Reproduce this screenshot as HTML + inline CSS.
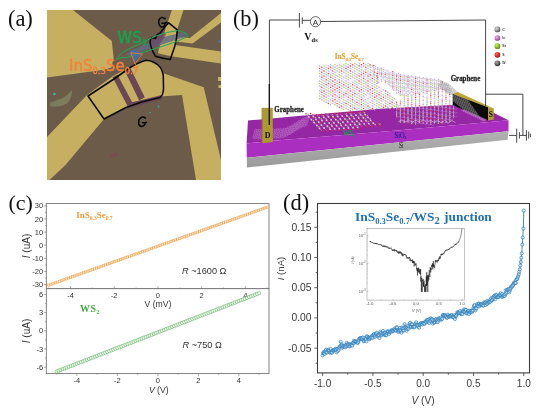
<!DOCTYPE html>
<html><head><meta charset="utf-8"><title>figure</title>
<style>html,body{margin:0;padding:0;background:#fff;overflow:hidden}svg{display:block;filter:blur(0.4px)}</style>
</head><body>
<svg width="550" height="418" viewBox="0 0 550 418">
<rect width="550" height="418" fill="#fff"/>
<g id="pa">
<clipPath id="clipA"><rect x="47" y="10" width="174" height="170"/></clipPath>
<g clip-path="url(#clipA)">
<rect x="47" y="10" width="174" height="170" fill="#6c5b48"/>
<polygon fill="#c6af61" points="47,10 73,10 111.8,41 113.6,57.5 111.5,67.5 104.4,69.8 47,77.5"/>
<polygon fill="#c6af61" points="47,137 87,95 113,76 131,66.5 143,60.5 152,61 160,67 163.3,73.3 203.7,87.3 221,160 221,180 196,180 182,95 160,96.5 143,101.5 126,107.5 104,119 65.5,165 49.5,180 47,180"/>
<polygon fill="#c6af61" points="171.9,10 183.5,10 176.5,31.4 175,45 220.8,51.6 220.8,63.5 171,56.3 157.9,53.2 158.6,50"/>
<polygon fill="#c6af61" points="221,13 221,22.5 192.5,43.5 163,40 164,35.5 190,38"/>
<polygon fill="#6b4657" points="112.6,77.3 117.4,74.8 132.6,103 127.4,105.8"/>
<polygon fill="#6b4657" points="125,71.2 130.4,68.3 144.8,97.3 139.2,100.4"/>
<polygon fill="#6b4657" points="127,103.5 161,95.3 162,99.3 128,108.6"/>
<path d="M126,54.5 C135,48 160,36 186,32.3 C188.5,34 186,36.5 182,38 C165,43 145,50.5 130,56 Z" fill="#5e6a86" opacity="0.8"/>
<path d="M150,40 C152,36 158,34 162,30 L166,34 C164,40 158,46 153,47 Z" fill="#6b4a66" opacity="0.8"/>
<path d="M50,103 C55,100 63,100 69,93 L72,90 C72,96 70,102 66,104 C60,107 53,107 50,106 Z" fill="#7b7e5c"/>
<circle cx="54.5" cy="94" r="1.3" fill="#3fb0a8"/>
<circle cx="158.5" cy="106.5" r="0.9" fill="#3fa0a8"/>
<circle cx="150" cy="112.5" r="0.8" fill="#3fa0a8"/>
<circle cx="219.5" cy="41.5" r="1.3" fill="#4a78b0"/>
<circle cx="205.3" cy="28" r="0.6" fill="#4a78b0"/>
<rect x="110" y="154" width="8.5" height="2.2" fill="#7c4a55" transform="rotate(-20 114 155)"/>
<rect x="218" y="77" width="3" height="4" fill="#c9b363"/>
<rect x="218.5" y="85" width="2.5" height="3" fill="#c9b363"/>
</g>
<g fill="none" stroke="#0a0a0a" stroke-width="1.55" stroke-linejoin="round" stroke-linecap="round">
<path d="M88,96 L104,119 L126,107.5 L142.5,101.7 L160,97.5 Q163.5,95 163.5,88 L163.3,76 Q162.5,69 158,65 Q152,60.5 146,60.3 Q140,62 131,67 L114,79 Z"/>
<path d="M168.7,22.9 L177.3,29.9 Q177,38 175,45.4 L170.3,59.4 Q162,58.5 155.5,56.3 Q151,49 150.1,42.3 Q150,39 151.7,37.6 L155.5,38.4 L157,35 L160.2,33 L164.9,26.8 Z"/>
<path d="M165.2,18.8 Q161.5,15.8 159.2,19.5 Q157.6,24.5 161.2,27 Q164.6,27.5 165.2,23 L162,23.2 M165.2,23 L167,22.3"/>
<path d="M145.5,118 Q141.5,115.5 139,120 Q137.5,125.5 141.5,126.5 Q145,126 145.5,122.5 L142.5,122.7 M145.5,122.5 L146.5,122.2"/>
</g>
<g fill="none" stroke="#1faa55" stroke-width="1" stroke-linecap="round" stroke-linejoin="round">
<path d="M116.5,59 Q119,55 123,52 Q128,49 134,46.5 L140,43.8 Q147,40 155.5,36.1 Q166,32 177.3,30.6 Q182,30.8 185,33 Q187.5,34 187.4,35.6 Q187,37 185,37.6 Q180,40.5 174.2,42.3 Q165,45.5 155.5,48.5 Q147,51.5 140,53.2 Q135,54.5 132,55.7 L129.5,57 Q126,57.8 123,57.5 Q119,58 116.5,59 Z"/>
</g>
<path d="M130.5,50.5 L141.5,53.5 L134.2,62 Z" fill="#3f74c4" fill-opacity="0.55" stroke="#3a6fc0" stroke-width="0.8" stroke-linejoin="round"/>
<g fill="none" stroke="#f08030" stroke-width="0.8" stroke-linecap="round" stroke-linejoin="round">
<path d="M131.2,52.8 L142.3,54 L135.2,63.5 Z M135.2,63.5 Q137.5,66 136,68.5 L138,70 M136,68.5 L137.5,66.5"/>
</g>
<text y="43.2" font-family="'DejaVu Sans','Liberation Sans',sans-serif" font-size="15" fill="#16a34f" stroke="#16a34f" stroke-width="0.5"><tspan x="117.3">W</tspan><tspan x="132.3">S</tspan><tspan x="142.4" font-size="7.5" dy="2">2</tspan></text>
<text x="69" y="71.3" font-family="'DejaVu Sans','Liberation Sans',sans-serif" font-size="15" fill="#f5813a" stroke="#f5813a" stroke-width="0.4">InS<tspan font-size="8.5" dy="2.5">0.3</tspan><tspan dy="-2.5">Se</tspan><tspan font-size="8.5" dy="2.5">0.7</tspan></text>
</g>
<text x="7.9" y="25.9" font-family="'Liberation Serif',serif" font-size="22.5" fill="#111">(a)</text>
<g id="pb">
<linearGradient id="siG" x1="0" y1="0" x2="0.1" y2="1"><stop offset="0" stop-color="#b4b4b4"/><stop offset="1" stop-color="#9a9a9a"/></linearGradient>
<polygon fill="#9526a4" points="248,120.5 304,115.4 380,108.7 445,105.3 470,104.8 494,113 508.5,120.3 400,130.3 325,136.6 270,140.9 246.6,143.6"/>
<polygon fill="#aa2fc1" points="246.6,143.6 270,140.9 325,136.6 400,130.3 508.5,120.3 508.5,131.2 246.8,157.8"/>
<polygon fill="url(#siG)" points="246.8,157.8 508.5,131.2 507.6,139.8 247,167.5"/>
<path d="M252.8,138.4L255.2,129.2M254.6,138.58L257,129.38M256.4,138.74L258.8,129.54M258.2,138.87L260.6,129.67M260,138.96L262.4,129.76M261.8,139L264.2,129.8M263.6,138.98L266,129.78M265.4,138.92L267.8,129.72M267.2,138.81L269.6,129.61M269,138.66L271.4,129.46M270.8,138.48L273.2,129.28M272.6,138.31L275,129.11M274.4,138.13L276.8,128.93M276.2,137.99L278.6,128.79M278,137.88L280.4,128.68M279.8,137.81L282.2,128.61M281.6,137.64L284,128.44M283.4,137.21L285.8,128.01M285.2,136.58L287.6,127.38M287,135.79L289.4,126.59M288.8,134.86L291.2,125.66M290.6,133.83L293,124.63M292.4,132.74L294.8,123.54M294.2,131.6L296.6,122.4M296,130.45L298.4,121.25M297.8,129.33L300.2,120.13M299.6,128.28L302,119.08M301.4,127.33L303.8,118.13M303.2,126.54L305.6,117.34M305,125.96L307.4,116.76M306.8,125.65L309.2,116.45M255.2,128.65L257,129.93L258.8,128.99L260.6,130.22L262.4,129.21L264.2,130.35L266,129.23L267.8,130.27L269.6,129.06L271.4,130.01L273.2,128.73L275,129.66L276.8,128.38L278.6,129.34L280.4,128.13L282.2,129.16L284,127.89L285.8,128.56L287.6,126.83L289.4,127.14L291.2,125.11L293,125.18L294.8,122.99L296.6,122.95L298.4,120.7L300.2,120.68L302,118.53L303.8,118.68L305.6,116.79L307.4,117.31L309.2,115.9M254.73,130.45L256.53,131.73L258.33,130.79L260.13,132.02L261.93,131.01L263.73,132.15L265.53,131.03L267.33,132.07L269.13,130.86L270.93,131.81L272.73,130.53L274.53,131.46L276.33,130.18L278.13,131.14L279.93,129.93L281.73,130.96L283.53,129.69L285.33,130.36L287.13,128.63L288.93,128.94L290.73,126.91L292.53,126.98L294.33,124.79L296.13,124.75L297.93,122.5L299.73,122.48L301.53,120.33L303.33,120.48L305.13,118.59L306.93,119.11L308.73,117.7M254.23,132.35L256.03,133.63L257.83,132.69L259.63,133.92L261.43,132.91L263.23,134.05L265.03,132.93L266.83,133.97L268.63,132.76L270.43,133.71L272.23,132.43L274.03,133.36L275.83,132.08L277.63,133.04L279.43,131.83L281.23,132.86L283.03,131.59L284.83,132.26L286.63,130.53L288.43,130.84L290.23,128.81L292.03,128.88L293.83,126.69L295.63,126.65L297.43,124.4L299.23,124.38L301.03,122.23L302.83,122.38L304.63,120.49L306.43,121.01L308.23,119.6M253.77,134.15L255.57,135.43L257.37,134.49L259.17,135.72L260.97,134.71L262.77,135.85L264.57,134.73L266.37,135.77L268.17,134.56L269.97,135.51L271.77,134.23L273.57,135.16L275.37,133.88L277.17,134.84L278.97,133.63L280.77,134.66L282.57,133.39L284.37,134.06L286.17,132.33L287.97,132.64L289.77,130.61L291.57,130.68L293.37,128.49L295.17,128.45L296.97,126.2L298.77,126.18L300.57,124.03L302.37,124.18L304.17,122.29L305.97,122.81L307.77,121.4M253.27,136.05L255.07,137.33L256.87,136.39L258.67,137.62L260.47,136.61L262.27,137.75L264.07,136.63L265.87,137.67L267.67,136.46L269.47,137.41L271.27,136.13L273.07,137.06L274.87,135.78L276.67,136.74L278.47,135.53L280.27,136.56L282.07,135.29L283.87,135.96L285.67,134.23L287.47,134.54L289.27,132.51L291.07,132.58L292.87,130.39L294.67,130.35L296.47,128.1L298.27,128.08L300.07,125.93L301.87,126.08L303.67,124.19L305.47,124.71L307.27,123.3M252.8,137.85L254.6,139.13L256.4,138.19L258.2,139.42L260,138.41L261.8,139.55L263.6,138.43L265.4,139.47L267.2,138.26L269,139.21L270.8,137.93L272.6,138.86L274.4,137.58L276.2,138.54L278,137.33L279.8,138.36L281.6,137.09L283.4,137.76L285.2,136.03L287,136.34L288.8,134.31L290.6,134.38L292.4,132.19L294.2,132.15L296,129.9L297.8,129.88L299.6,127.73L301.4,127.88L303.2,125.99L305,126.51L306.8,125.1" fill="none" stroke="#e2cdea" stroke-width="0.38" opacity="0.6"/>
<path d="M306,113.8L322.2,131.2M310.6,113.5L326.8,130.9M316.55,114.65L331.4,130.6M321.15,114.35L336,130.3M325.75,114.05L340.6,130M330.35,113.75L345.2,129.7M334.95,113.45L349.8,129.4M339.55,113.15L354.4,129.1M344.15,112.85L359,128.8M348.75,112.55L362.25,127.05M353.35,112.25L366.85,126.75M357.95,111.95L371.45,126.45M362.55,111.65L376.05,126.15M377.95,122.95L380.65,125.85" stroke="#e4d2ea" stroke-width="0.8" fill="none" opacity="0.45"/>
<g fill="#e2e2e2" stroke="#858585" stroke-width="0.22"><circle cx="308.7" cy="116.7" r="0.88"/><circle cx="311.4" cy="119.6" r="0.88"/><circle cx="314.1" cy="122.5" r="0.88"/><circle cx="316.8" cy="125.4" r="0.88"/><circle cx="319.5" cy="128.3" r="0.88"/><circle cx="313.3" cy="116.4" r="0.88"/><circle cx="316" cy="119.3" r="0.88"/><circle cx="318.7" cy="122.2" r="0.88"/><circle cx="321.4" cy="125.1" r="0.88"/><circle cx="324.1" cy="128" r="0.88"/><circle cx="319.25" cy="117.55" r="0.88"/><circle cx="321.95" cy="120.45" r="0.88"/><circle cx="324.65" cy="123.35" r="0.88"/><circle cx="327.35" cy="126.25" r="0.88"/><circle cx="330.05" cy="129.15" r="0.88"/><circle cx="323.85" cy="117.25" r="0.88"/><circle cx="326.55" cy="120.15" r="0.88"/><circle cx="329.25" cy="123.05" r="0.88"/><circle cx="331.95" cy="125.95" r="0.88"/><circle cx="334.65" cy="128.85" r="0.88"/><circle cx="328.45" cy="116.95" r="0.88"/><circle cx="331.15" cy="119.85" r="0.88"/><circle cx="333.85" cy="122.75" r="0.88"/><circle cx="336.55" cy="125.65" r="0.88"/><circle cx="339.25" cy="128.55" r="0.88"/><circle cx="333.05" cy="116.65" r="0.88"/><circle cx="335.75" cy="119.55" r="0.88"/><circle cx="338.45" cy="122.45" r="0.88"/><circle cx="341.15" cy="125.35" r="0.88"/><circle cx="343.85" cy="128.25" r="0.88"/><circle cx="337.65" cy="116.35" r="0.88"/><circle cx="340.35" cy="119.25" r="0.88"/><circle cx="343.05" cy="122.15" r="0.88"/><circle cx="345.75" cy="125.05" r="0.88"/><circle cx="348.45" cy="127.95" r="0.88"/><circle cx="342.25" cy="116.05" r="0.88"/><circle cx="344.95" cy="118.95" r="0.88"/><circle cx="347.65" cy="121.85" r="0.88"/><circle cx="350.35" cy="124.75" r="0.88"/><circle cx="353.05" cy="127.65" r="0.88"/><circle cx="346.85" cy="115.75" r="0.88"/><circle cx="349.55" cy="118.65" r="0.88"/><circle cx="352.25" cy="121.55" r="0.88"/><circle cx="354.95" cy="124.45" r="0.88"/><circle cx="357.65" cy="127.35" r="0.88"/><circle cx="351.45" cy="115.45" r="0.88"/><circle cx="354.15" cy="118.35" r="0.88"/><circle cx="356.85" cy="121.25" r="0.88"/><circle cx="359.55" cy="124.15" r="0.88"/><circle cx="356.05" cy="115.15" r="0.88"/><circle cx="358.75" cy="118.05" r="0.88"/><circle cx="361.45" cy="120.95" r="0.88"/><circle cx="364.15" cy="123.85" r="0.88"/><circle cx="360.65" cy="114.85" r="0.88"/><circle cx="363.35" cy="117.75" r="0.88"/><circle cx="366.05" cy="120.65" r="0.88"/><circle cx="368.75" cy="123.55" r="0.88"/><circle cx="365.25" cy="114.55" r="0.88"/><circle cx="367.95" cy="117.45" r="0.88"/><circle cx="370.65" cy="120.35" r="0.88"/><circle cx="373.35" cy="123.25" r="0.88"/></g>
<g fill="#e8242a"><circle cx="306" cy="113.8" r="0.75"/><circle cx="308.15" cy="114.75" r="0.55"/><circle cx="310.85" cy="117.65" r="0.55"/><circle cx="316.25" cy="123.45" r="0.55"/><circle cx="321.65" cy="129.25" r="0.55"/><circle cx="322.2" cy="131.2" r="0.75"/><circle cx="310.6" cy="113.5" r="0.75"/><circle cx="312.75" cy="114.45" r="0.55"/><circle cx="318.15" cy="120.25" r="0.55"/><circle cx="320.85" cy="123.15" r="0.55"/><circle cx="323.55" cy="126.05" r="0.55"/><circle cx="326.25" cy="128.95" r="0.55"/><circle cx="326.8" cy="130.9" r="0.75"/><circle cx="316.55" cy="114.65" r="0.75"/><circle cx="318.7" cy="115.6" r="0.55"/><circle cx="324.1" cy="121.4" r="0.55"/><circle cx="326.8" cy="124.3" r="0.55"/><circle cx="331.4" cy="130.6" r="0.75"/><circle cx="321.15" cy="114.35" r="0.75"/><circle cx="328.7" cy="121.1" r="0.55"/><circle cx="334.1" cy="126.9" r="0.55"/><circle cx="336" cy="130.3" r="0.75"/><circle cx="325.75" cy="114.05" r="0.75"/><circle cx="330.6" cy="117.9" r="0.55"/><circle cx="333.3" cy="120.8" r="0.55"/><circle cx="336" cy="123.7" r="0.55"/><circle cx="338.7" cy="126.6" r="0.55"/><circle cx="340.6" cy="130" r="0.75"/><circle cx="330.35" cy="113.75" r="0.75"/><circle cx="335.2" cy="117.6" r="0.55"/><circle cx="343.3" cy="126.3" r="0.55"/><circle cx="345.2" cy="129.7" r="0.75"/><circle cx="334.95" cy="113.45" r="0.75"/><circle cx="339.8" cy="117.3" r="0.55"/><circle cx="342.5" cy="120.2" r="0.55"/><circle cx="345.2" cy="123.1" r="0.55"/><circle cx="349.8" cy="129.4" r="0.75"/><circle cx="339.55" cy="113.15" r="0.75"/><circle cx="341.7" cy="114.1" r="0.55"/><circle cx="344.4" cy="117" r="0.55"/><circle cx="349.8" cy="122.8" r="0.55"/><circle cx="352.5" cy="125.7" r="0.55"/><circle cx="354.4" cy="129.1" r="0.75"/><circle cx="344.15" cy="112.85" r="0.75"/><circle cx="351.7" cy="119.6" r="0.55"/><circle cx="359" cy="128.8" r="0.75"/><circle cx="348.75" cy="112.55" r="0.75"/><circle cx="356.3" cy="119.3" r="0.55"/><circle cx="361.7" cy="125.1" r="0.55"/><circle cx="362.25" cy="127.05" r="0.75"/><circle cx="353.35" cy="112.25" r="0.75"/><circle cx="355.5" cy="113.2" r="0.55"/><circle cx="360.9" cy="119" r="0.55"/><circle cx="363.6" cy="121.9" r="0.55"/><circle cx="366.3" cy="124.8" r="0.55"/><circle cx="366.85" cy="126.75" r="0.75"/><circle cx="357.95" cy="111.95" r="0.75"/><circle cx="370.9" cy="124.5" r="0.55"/><circle cx="371.45" cy="126.45" r="0.75"/><circle cx="362.55" cy="111.65" r="0.75"/><circle cx="372.8" cy="121.3" r="0.55"/><circle cx="376.05" cy="126.15" r="0.75"/><circle cx="377.95" cy="122.95" r="0.75"/><circle cx="380.65" cy="125.85" r="0.75"/></g>
<g fill="#d8d24a"><circle cx="313.55" cy="120.55" r="0.55"/><circle cx="318.95" cy="126.35" r="0.55"/><circle cx="315.45" cy="117.35" r="0.55"/><circle cx="321.4" cy="118.5" r="0.55"/><circle cx="329.5" cy="127.2" r="0.55"/><circle cx="323.3" cy="115.3" r="0.55"/><circle cx="326" cy="118.2" r="0.55"/><circle cx="331.4" cy="124" r="0.55"/><circle cx="327.9" cy="115" r="0.55"/><circle cx="332.5" cy="114.7" r="0.55"/><circle cx="337.9" cy="120.5" r="0.55"/><circle cx="340.6" cy="123.4" r="0.55"/><circle cx="337.1" cy="114.4" r="0.55"/><circle cx="347.9" cy="126" r="0.55"/><circle cx="347.1" cy="119.9" r="0.55"/><circle cx="346.3" cy="113.8" r="0.55"/><circle cx="349" cy="116.7" r="0.55"/><circle cx="354.4" cy="122.5" r="0.55"/><circle cx="357.1" cy="125.4" r="0.55"/><circle cx="350.9" cy="113.5" r="0.55"/><circle cx="353.6" cy="116.4" r="0.55"/><circle cx="359" cy="122.2" r="0.55"/><circle cx="358.2" cy="116.1" r="0.55"/><circle cx="360.1" cy="112.9" r="0.55"/><circle cx="362.8" cy="115.8" r="0.55"/><circle cx="365.5" cy="118.7" r="0.55"/><circle cx="368.2" cy="121.6" r="0.55"/><circle cx="364.7" cy="112.6" r="0.55"/><circle cx="367.4" cy="115.5" r="0.55"/><circle cx="370.1" cy="118.4" r="0.55"/><circle cx="375.5" cy="124.2" r="0.55"/><circle cx="380.1" cy="123.9" r="0.55"/></g>
<g>
<path d="M319.6,98.5L330.6,104.75M319.6,96L343.8,109.75M319.6,93.5L350.4,111M319.6,91L352.6,109.75M319.6,88.5L357,109.75M319.6,86L361.4,109.75M319.6,83.5L365.8,109.75M319.6,81L370.2,109.75M319.6,78.5L374.6,109.75M319.6,76L376.8,108.5M319.6,73.5L381.2,108.5M319.6,71L385.6,108.5M319.6,68.5L390,108.5M319.6,66L394.4,108.5M324,66L398.8,108.5M326.2,64.75L398.8,106M330.6,64.75L396.6,102.25M335,64.75L396.6,99.75M339.4,64.75L390,93.5M343.8,64.75L381.2,86M346,63.5L379,82.25M350.4,63.5L376.8,78.5M354.8,63.5L376.8,76M359.2,63.5L376.8,73.5M363.6,63.5L374.6,69.75M368,63.5L372.4,66" stroke="#d6ccdf" stroke-width="1.0" fill="none" opacity="0.62" stroke-linecap="round"/>
<g fill="#b796c6" opacity="0.75"><circle cx="321.8" cy="99.75" r="0.72"/><circle cx="326.2" cy="102.25" r="0.72"/><circle cx="330.6" cy="104.75" r="0.72"/><circle cx="319.6" cy="96" r="0.72"/><circle cx="324" cy="98.5" r="0.72"/><circle cx="328.4" cy="101" r="0.72"/><circle cx="332.8" cy="103.5" r="0.72"/><circle cx="337.2" cy="106" r="0.72"/><circle cx="341.6" cy="108.5" r="0.72"/><circle cx="321.8" cy="94.75" r="0.72"/><circle cx="326.2" cy="97.25" r="0.72"/><circle cx="330.6" cy="99.75" r="0.72"/><circle cx="335" cy="102.25" r="0.72"/><circle cx="339.4" cy="104.75" r="0.72"/><circle cx="343.8" cy="107.25" r="0.72"/><circle cx="348.2" cy="109.75" r="0.72"/><circle cx="319.6" cy="91" r="0.72"/><circle cx="324" cy="93.5" r="0.72"/><circle cx="328.4" cy="96" r="0.72"/><circle cx="332.8" cy="98.5" r="0.72"/><circle cx="337.2" cy="101" r="0.72"/><circle cx="341.6" cy="103.5" r="0.72"/><circle cx="346" cy="106" r="0.72"/><circle cx="350.4" cy="108.5" r="0.72"/><circle cx="321.8" cy="89.75" r="0.72"/><circle cx="326.2" cy="92.25" r="0.72"/><circle cx="330.6" cy="94.75" r="0.72"/><circle cx="335" cy="97.25" r="0.72"/><circle cx="339.4" cy="99.75" r="0.72"/><circle cx="343.8" cy="102.25" r="0.72"/><circle cx="348.2" cy="104.75" r="0.72"/><circle cx="352.6" cy="107.25" r="0.72"/><circle cx="357" cy="109.75" r="0.72"/><circle cx="319.6" cy="86" r="0.72"/><circle cx="324" cy="88.5" r="0.72"/><circle cx="328.4" cy="91" r="0.72"/><circle cx="332.8" cy="93.5" r="0.72"/><circle cx="337.2" cy="96" r="0.72"/><circle cx="341.6" cy="98.5" r="0.72"/><circle cx="346" cy="101" r="0.72"/><circle cx="350.4" cy="103.5" r="0.72"/><circle cx="354.8" cy="106" r="0.72"/><circle cx="359.2" cy="108.5" r="0.72"/><circle cx="321.8" cy="84.75" r="0.72"/><circle cx="326.2" cy="87.25" r="0.72"/><circle cx="330.6" cy="89.75" r="0.72"/><circle cx="335" cy="92.25" r="0.72"/><circle cx="339.4" cy="94.75" r="0.72"/><circle cx="343.8" cy="97.25" r="0.72"/><circle cx="348.2" cy="99.75" r="0.72"/><circle cx="352.6" cy="102.25" r="0.72"/><circle cx="357" cy="104.75" r="0.72"/><circle cx="361.4" cy="107.25" r="0.72"/><circle cx="365.8" cy="109.75" r="0.72"/><circle cx="319.6" cy="81" r="0.72"/><circle cx="324" cy="83.5" r="0.72"/><circle cx="328.4" cy="86" r="0.72"/><circle cx="332.8" cy="88.5" r="0.72"/><circle cx="337.2" cy="91" r="0.72"/><circle cx="341.6" cy="93.5" r="0.72"/><circle cx="346" cy="96" r="0.72"/><circle cx="350.4" cy="98.5" r="0.72"/><circle cx="354.8" cy="101" r="0.72"/><circle cx="359.2" cy="103.5" r="0.72"/><circle cx="363.6" cy="106" r="0.72"/><circle cx="368" cy="108.5" r="0.72"/><circle cx="321.8" cy="79.75" r="0.72"/><circle cx="326.2" cy="82.25" r="0.72"/><circle cx="330.6" cy="84.75" r="0.72"/><circle cx="335" cy="87.25" r="0.72"/><circle cx="339.4" cy="89.75" r="0.72"/><circle cx="343.8" cy="92.25" r="0.72"/><circle cx="348.2" cy="94.75" r="0.72"/><circle cx="352.6" cy="97.25" r="0.72"/><circle cx="357" cy="99.75" r="0.72"/><circle cx="361.4" cy="102.25" r="0.72"/><circle cx="365.8" cy="104.75" r="0.72"/><circle cx="370.2" cy="107.25" r="0.72"/><circle cx="374.6" cy="109.75" r="0.72"/><circle cx="319.6" cy="76" r="0.72"/><circle cx="324" cy="78.5" r="0.72"/><circle cx="328.4" cy="81" r="0.72"/><circle cx="332.8" cy="83.5" r="0.72"/><circle cx="337.2" cy="86" r="0.72"/><circle cx="341.6" cy="88.5" r="0.72"/><circle cx="346" cy="91" r="0.72"/><circle cx="350.4" cy="93.5" r="0.72"/><circle cx="354.8" cy="96" r="0.72"/><circle cx="359.2" cy="98.5" r="0.72"/><circle cx="363.6" cy="101" r="0.72"/><circle cx="368" cy="103.5" r="0.72"/><circle cx="372.4" cy="106" r="0.72"/><circle cx="376.8" cy="108.5" r="0.72"/><circle cx="321.8" cy="74.75" r="0.72"/><circle cx="326.2" cy="77.25" r="0.72"/><circle cx="330.6" cy="79.75" r="0.72"/><circle cx="335" cy="82.25" r="0.72"/><circle cx="339.4" cy="84.75" r="0.72"/><circle cx="343.8" cy="87.25" r="0.72"/><circle cx="348.2" cy="89.75" r="0.72"/><circle cx="352.6" cy="92.25" r="0.72"/><circle cx="357" cy="94.75" r="0.72"/><circle cx="361.4" cy="97.25" r="0.72"/><circle cx="365.8" cy="99.75" r="0.72"/><circle cx="370.2" cy="102.25" r="0.72"/><circle cx="374.6" cy="104.75" r="0.72"/><circle cx="379" cy="107.25" r="0.72"/><circle cx="319.6" cy="71" r="0.72"/><circle cx="324" cy="73.5" r="0.72"/><circle cx="328.4" cy="76" r="0.72"/><circle cx="332.8" cy="78.5" r="0.72"/><circle cx="337.2" cy="81" r="0.72"/><circle cx="341.6" cy="83.5" r="0.72"/><circle cx="346" cy="86" r="0.72"/><circle cx="350.4" cy="88.5" r="0.72"/><circle cx="354.8" cy="91" r="0.72"/><circle cx="359.2" cy="93.5" r="0.72"/><circle cx="363.6" cy="96" r="0.72"/><circle cx="368" cy="98.5" r="0.72"/><circle cx="372.4" cy="101" r="0.72"/><circle cx="376.8" cy="103.5" r="0.72"/><circle cx="381.2" cy="106" r="0.72"/><circle cx="385.6" cy="108.5" r="0.72"/><circle cx="321.8" cy="69.75" r="0.72"/><circle cx="326.2" cy="72.25" r="0.72"/><circle cx="330.6" cy="74.75" r="0.72"/><circle cx="335" cy="77.25" r="0.72"/><circle cx="339.4" cy="79.75" r="0.72"/><circle cx="343.8" cy="82.25" r="0.72"/><circle cx="348.2" cy="84.75" r="0.72"/><circle cx="352.6" cy="87.25" r="0.72"/><circle cx="357" cy="89.75" r="0.72"/><circle cx="361.4" cy="92.25" r="0.72"/><circle cx="365.8" cy="94.75" r="0.72"/><circle cx="370.2" cy="97.25" r="0.72"/><circle cx="374.6" cy="99.75" r="0.72"/><circle cx="379" cy="102.25" r="0.72"/><circle cx="383.4" cy="104.75" r="0.72"/><circle cx="387.8" cy="107.25" r="0.72"/><circle cx="319.6" cy="66" r="0.72"/><circle cx="324" cy="68.5" r="0.72"/><circle cx="328.4" cy="71" r="0.72"/><circle cx="332.8" cy="73.5" r="0.72"/><circle cx="337.2" cy="76" r="0.72"/><circle cx="341.6" cy="78.5" r="0.72"/><circle cx="346" cy="81" r="0.72"/><circle cx="350.4" cy="83.5" r="0.72"/><circle cx="354.8" cy="86" r="0.72"/><circle cx="359.2" cy="88.5" r="0.72"/><circle cx="363.6" cy="91" r="0.72"/><circle cx="368" cy="93.5" r="0.72"/><circle cx="372.4" cy="96" r="0.72"/><circle cx="376.8" cy="98.5" r="0.72"/><circle cx="381.2" cy="101" r="0.72"/><circle cx="385.6" cy="103.5" r="0.72"/><circle cx="390" cy="106" r="0.72"/><circle cx="394.4" cy="108.5" r="0.72"/><circle cx="326.2" cy="67.25" r="0.72"/><circle cx="330.6" cy="69.75" r="0.72"/><circle cx="335" cy="72.25" r="0.72"/><circle cx="339.4" cy="74.75" r="0.72"/><circle cx="343.8" cy="77.25" r="0.72"/><circle cx="348.2" cy="79.75" r="0.72"/><circle cx="352.6" cy="82.25" r="0.72"/><circle cx="357" cy="84.75" r="0.72"/><circle cx="361.4" cy="87.25" r="0.72"/><circle cx="365.8" cy="89.75" r="0.72"/><circle cx="370.2" cy="92.25" r="0.72"/><circle cx="374.6" cy="94.75" r="0.72"/><circle cx="379" cy="97.25" r="0.72"/><circle cx="383.4" cy="99.75" r="0.72"/><circle cx="387.8" cy="102.25" r="0.72"/><circle cx="392.2" cy="104.75" r="0.72"/><circle cx="396.6" cy="107.25" r="0.72"/><circle cx="328.4" cy="66" r="0.72"/><circle cx="332.8" cy="68.5" r="0.72"/><circle cx="337.2" cy="71" r="0.72"/><circle cx="341.6" cy="73.5" r="0.72"/><circle cx="346" cy="76" r="0.72"/><circle cx="350.4" cy="78.5" r="0.72"/><circle cx="354.8" cy="81" r="0.72"/><circle cx="359.2" cy="83.5" r="0.72"/><circle cx="363.6" cy="86" r="0.72"/><circle cx="368" cy="88.5" r="0.72"/><circle cx="372.4" cy="91" r="0.72"/><circle cx="376.8" cy="93.5" r="0.72"/><circle cx="381.2" cy="96" r="0.72"/><circle cx="385.6" cy="98.5" r="0.72"/><circle cx="390" cy="101" r="0.72"/><circle cx="394.4" cy="103.5" r="0.72"/><circle cx="398.8" cy="106" r="0.72"/><circle cx="330.6" cy="64.75" r="0.72"/><circle cx="335" cy="67.25" r="0.72"/><circle cx="339.4" cy="69.75" r="0.72"/><circle cx="343.8" cy="72.25" r="0.72"/><circle cx="348.2" cy="74.75" r="0.72"/><circle cx="352.6" cy="77.25" r="0.72"/><circle cx="357" cy="79.75" r="0.72"/><circle cx="361.4" cy="82.25" r="0.72"/><circle cx="365.8" cy="84.75" r="0.72"/><circle cx="370.2" cy="87.25" r="0.72"/><circle cx="374.6" cy="89.75" r="0.72"/><circle cx="379" cy="92.25" r="0.72"/><circle cx="383.4" cy="94.75" r="0.72"/><circle cx="387.8" cy="97.25" r="0.72"/><circle cx="392.2" cy="99.75" r="0.72"/><circle cx="396.6" cy="102.25" r="0.72"/><circle cx="337.2" cy="66" r="0.72"/><circle cx="341.6" cy="68.5" r="0.72"/><circle cx="346" cy="71" r="0.72"/><circle cx="350.4" cy="73.5" r="0.72"/><circle cx="354.8" cy="76" r="0.72"/><circle cx="359.2" cy="78.5" r="0.72"/><circle cx="363.6" cy="81" r="0.72"/><circle cx="368" cy="83.5" r="0.72"/><circle cx="372.4" cy="86" r="0.72"/><circle cx="376.8" cy="88.5" r="0.72"/><circle cx="381.2" cy="91" r="0.72"/><circle cx="385.6" cy="93.5" r="0.72"/><circle cx="390" cy="96" r="0.72"/><circle cx="394.4" cy="98.5" r="0.72"/><circle cx="339.4" cy="64.75" r="0.72"/><circle cx="343.8" cy="67.25" r="0.72"/><circle cx="348.2" cy="69.75" r="0.72"/><circle cx="352.6" cy="72.25" r="0.72"/><circle cx="357" cy="74.75" r="0.72"/><circle cx="361.4" cy="77.25" r="0.72"/><circle cx="365.8" cy="79.75" r="0.72"/><circle cx="370.2" cy="82.25" r="0.72"/><circle cx="374.6" cy="84.75" r="0.72"/><circle cx="379" cy="87.25" r="0.72"/><circle cx="383.4" cy="89.75" r="0.72"/><circle cx="387.8" cy="92.25" r="0.72"/><circle cx="346" cy="66" r="0.72"/><circle cx="350.4" cy="68.5" r="0.72"/><circle cx="354.8" cy="71" r="0.72"/><circle cx="359.2" cy="73.5" r="0.72"/><circle cx="363.6" cy="76" r="0.72"/><circle cx="368" cy="78.5" r="0.72"/><circle cx="372.4" cy="81" r="0.72"/><circle cx="376.8" cy="83.5" r="0.72"/><circle cx="381.2" cy="86" r="0.72"/><circle cx="348.2" cy="64.75" r="0.72"/><circle cx="352.6" cy="67.25" r="0.72"/><circle cx="357" cy="69.75" r="0.72"/><circle cx="361.4" cy="72.25" r="0.72"/><circle cx="365.8" cy="74.75" r="0.72"/><circle cx="370.2" cy="77.25" r="0.72"/><circle cx="374.6" cy="79.75" r="0.72"/><circle cx="379" cy="82.25" r="0.72"/><circle cx="350.4" cy="63.5" r="0.72"/><circle cx="354.8" cy="66" r="0.72"/><circle cx="359.2" cy="68.5" r="0.72"/><circle cx="363.6" cy="71" r="0.72"/><circle cx="368" cy="73.5" r="0.72"/><circle cx="372.4" cy="76" r="0.72"/><circle cx="376.8" cy="78.5" r="0.72"/><circle cx="357" cy="64.75" r="0.72"/><circle cx="361.4" cy="67.25" r="0.72"/><circle cx="365.8" cy="69.75" r="0.72"/><circle cx="370.2" cy="72.25" r="0.72"/><circle cx="374.6" cy="74.75" r="0.72"/><circle cx="359.2" cy="63.5" r="0.72"/><circle cx="363.6" cy="66" r="0.72"/><circle cx="368" cy="68.5" r="0.72"/><circle cx="372.4" cy="71" r="0.72"/><circle cx="376.8" cy="73.5" r="0.72"/><circle cx="365.8" cy="64.75" r="0.72"/><circle cx="370.2" cy="67.25" r="0.72"/><circle cx="374.6" cy="69.75" r="0.72"/><circle cx="368" cy="63.5" r="0.72"/><circle cx="372.4" cy="66" r="0.72"/></g>
<g fill="#aed257" opacity="0.9"><circle cx="319.6" cy="98.5" r="0.72"/><circle cx="324" cy="101" r="0.72"/><circle cx="321.8" cy="97.25" r="0.72"/><circle cx="326.2" cy="99.75" r="0.72"/><circle cx="335" cy="104.75" r="0.72"/><circle cx="343.8" cy="109.75" r="0.72"/><circle cx="319.6" cy="93.5" r="0.72"/><circle cx="328.4" cy="98.5" r="0.72"/><circle cx="346" cy="108.5" r="0.72"/><circle cx="326.2" cy="94.75" r="0.72"/><circle cx="339.4" cy="102.25" r="0.72"/><circle cx="343.8" cy="104.75" r="0.72"/><circle cx="352.6" cy="109.75" r="0.72"/><circle cx="328.4" cy="93.5" r="0.72"/><circle cx="326.2" cy="89.75" r="0.72"/><circle cx="330.6" cy="92.25" r="0.72"/><circle cx="343.8" cy="99.75" r="0.72"/><circle cx="348.2" cy="102.25" r="0.72"/><circle cx="352.6" cy="104.75" r="0.72"/><circle cx="361.4" cy="109.75" r="0.72"/><circle cx="319.6" cy="83.5" r="0.72"/><circle cx="324" cy="86" r="0.72"/><circle cx="328.4" cy="88.5" r="0.72"/><circle cx="341.6" cy="96" r="0.72"/><circle cx="350.4" cy="101" r="0.72"/><circle cx="354.8" cy="103.5" r="0.72"/><circle cx="359.2" cy="106" r="0.72"/><circle cx="321.8" cy="82.25" r="0.72"/><circle cx="365.8" cy="107.25" r="0.72"/><circle cx="324" cy="81" r="0.72"/><circle cx="341.6" cy="91" r="0.72"/><circle cx="350.4" cy="96" r="0.72"/><circle cx="359.2" cy="101" r="0.72"/><circle cx="363.6" cy="103.5" r="0.72"/><circle cx="330.6" cy="82.25" r="0.72"/><circle cx="348.2" cy="92.25" r="0.72"/><circle cx="357" cy="97.25" r="0.72"/><circle cx="365.8" cy="102.25" r="0.72"/><circle cx="319.6" cy="73.5" r="0.72"/><circle cx="328.4" cy="78.5" r="0.72"/><circle cx="337.2" cy="83.5" r="0.72"/><circle cx="341.6" cy="86" r="0.72"/><circle cx="346" cy="88.5" r="0.72"/><circle cx="359.2" cy="96" r="0.72"/><circle cx="372.4" cy="103.5" r="0.72"/><circle cx="376.8" cy="106" r="0.72"/><circle cx="381.2" cy="108.5" r="0.72"/><circle cx="326.2" cy="74.75" r="0.72"/><circle cx="352.6" cy="89.75" r="0.72"/><circle cx="361.4" cy="94.75" r="0.72"/><circle cx="379" cy="104.75" r="0.72"/><circle cx="332.8" cy="76" r="0.72"/><circle cx="341.6" cy="81" r="0.72"/><circle cx="346" cy="83.5" r="0.72"/><circle cx="350.4" cy="86" r="0.72"/><circle cx="354.8" cy="88.5" r="0.72"/><circle cx="363.6" cy="93.5" r="0.72"/><circle cx="372.4" cy="98.5" r="0.72"/><circle cx="376.8" cy="101" r="0.72"/><circle cx="381.2" cy="103.5" r="0.72"/><circle cx="390" cy="108.5" r="0.72"/><circle cx="326.2" cy="69.75" r="0.72"/><circle cx="335" cy="74.75" r="0.72"/><circle cx="339.4" cy="77.25" r="0.72"/><circle cx="348.2" cy="82.25" r="0.72"/><circle cx="370.2" cy="94.75" r="0.72"/><circle cx="379" cy="99.75" r="0.72"/><circle cx="387.8" cy="104.75" r="0.72"/><circle cx="324" cy="66" r="0.72"/><circle cx="341.6" cy="76" r="0.72"/><circle cx="346" cy="78.5" r="0.72"/><circle cx="354.8" cy="83.5" r="0.72"/><circle cx="363.6" cy="88.5" r="0.72"/><circle cx="385.6" cy="101" r="0.72"/><circle cx="394.4" cy="106" r="0.72"/><circle cx="335" cy="69.75" r="0.72"/><circle cx="339.4" cy="72.25" r="0.72"/><circle cx="348.2" cy="77.25" r="0.72"/><circle cx="357" cy="82.25" r="0.72"/><circle cx="361.4" cy="84.75" r="0.72"/><circle cx="365.8" cy="87.25" r="0.72"/><circle cx="374.6" cy="92.25" r="0.72"/><circle cx="387.8" cy="99.75" r="0.72"/><circle cx="396.6" cy="104.75" r="0.72"/><circle cx="332.8" cy="66" r="0.72"/><circle cx="337.2" cy="68.5" r="0.72"/><circle cx="346" cy="73.5" r="0.72"/><circle cx="350.4" cy="76" r="0.72"/><circle cx="354.8" cy="78.5" r="0.72"/><circle cx="363.6" cy="83.5" r="0.72"/><circle cx="376.8" cy="91" r="0.72"/><circle cx="381.2" cy="93.5" r="0.72"/><circle cx="385.6" cy="96" r="0.72"/><circle cx="390" cy="98.5" r="0.72"/><circle cx="335" cy="64.75" r="0.72"/><circle cx="339.4" cy="67.25" r="0.72"/><circle cx="343.8" cy="69.75" r="0.72"/><circle cx="348.2" cy="72.25" r="0.72"/><circle cx="352.6" cy="74.75" r="0.72"/><circle cx="357" cy="77.25" r="0.72"/><circle cx="361.4" cy="79.75" r="0.72"/><circle cx="365.8" cy="82.25" r="0.72"/><circle cx="374.6" cy="87.25" r="0.72"/><circle cx="392.2" cy="97.25" r="0.72"/><circle cx="341.6" cy="66" r="0.72"/><circle cx="354.8" cy="73.5" r="0.72"/><circle cx="372.4" cy="83.5" r="0.72"/><circle cx="376.8" cy="86" r="0.72"/><circle cx="390" cy="93.5" r="0.72"/><circle cx="343.8" cy="64.75" r="0.72"/><circle cx="370.2" cy="79.75" r="0.72"/><circle cx="374.6" cy="82.25" r="0.72"/><circle cx="346" cy="63.5" r="0.72"/><circle cx="354.8" cy="68.5" r="0.72"/><circle cx="359.2" cy="71" r="0.72"/><circle cx="376.8" cy="81" r="0.72"/><circle cx="357" cy="67.25" r="0.72"/><circle cx="361.4" cy="69.75" r="0.72"/><circle cx="374.6" cy="77.25" r="0.72"/><circle cx="354.8" cy="63.5" r="0.72"/><circle cx="368" cy="71" r="0.72"/><circle cx="370.2" cy="69.75" r="0.72"/><circle cx="368" cy="66" r="0.72"/><circle cx="370.2" cy="64.75" r="0.72"/></g>
<g fill="#e8343a" opacity="0.9"><circle cx="328.4" cy="103.5" r="0.72"/><circle cx="339.4" cy="107.25" r="0.72"/><circle cx="324" cy="96" r="0.72"/><circle cx="332.8" cy="101" r="0.72"/><circle cx="337.2" cy="103.5" r="0.72"/><circle cx="341.6" cy="106" r="0.72"/><circle cx="350.4" cy="111" r="0.72"/><circle cx="321.8" cy="92.25" r="0.72"/><circle cx="335" cy="99.75" r="0.72"/><circle cx="324" cy="91" r="0.72"/><circle cx="332.8" cy="96" r="0.72"/><circle cx="346" cy="103.5" r="0.72"/><circle cx="350.4" cy="106" r="0.72"/><circle cx="354.8" cy="108.5" r="0.72"/><circle cx="321.8" cy="87.25" r="0.72"/><circle cx="335" cy="94.75" r="0.72"/><circle cx="339.4" cy="97.25" r="0.72"/><circle cx="332.8" cy="91" r="0.72"/><circle cx="363.6" cy="108.5" r="0.72"/><circle cx="326.2" cy="84.75" r="0.72"/><circle cx="330.6" cy="87.25" r="0.72"/><circle cx="335" cy="89.75" r="0.72"/><circle cx="339.4" cy="92.25" r="0.72"/><circle cx="343.8" cy="94.75" r="0.72"/><circle cx="348.2" cy="97.25" r="0.72"/><circle cx="352.6" cy="99.75" r="0.72"/><circle cx="357" cy="102.25" r="0.72"/><circle cx="361.4" cy="104.75" r="0.72"/><circle cx="370.2" cy="109.75" r="0.72"/><circle cx="328.4" cy="83.5" r="0.72"/><circle cx="332.8" cy="86" r="0.72"/><circle cx="337.2" cy="88.5" r="0.72"/><circle cx="346" cy="93.5" r="0.72"/><circle cx="368" cy="106" r="0.72"/><circle cx="372.4" cy="108.5" r="0.72"/><circle cx="321.8" cy="77.25" r="0.72"/><circle cx="326.2" cy="79.75" r="0.72"/><circle cx="335" cy="84.75" r="0.72"/><circle cx="339.4" cy="87.25" r="0.72"/><circle cx="352.6" cy="94.75" r="0.72"/><circle cx="361.4" cy="99.75" r="0.72"/><circle cx="324" cy="76" r="0.72"/><circle cx="332.8" cy="81" r="0.72"/><circle cx="350.4" cy="91" r="0.72"/><circle cx="354.8" cy="93.5" r="0.72"/><circle cx="321.8" cy="72.25" r="0.72"/><circle cx="330.6" cy="77.25" r="0.72"/><circle cx="335" cy="79.75" r="0.72"/><circle cx="339.4" cy="82.25" r="0.72"/><circle cx="343.8" cy="84.75" r="0.72"/><circle cx="348.2" cy="87.25" r="0.72"/><circle cx="383.4" cy="107.25" r="0.72"/><circle cx="319.6" cy="68.5" r="0.72"/><circle cx="324" cy="71" r="0.72"/><circle cx="328.4" cy="73.5" r="0.72"/><circle cx="359.2" cy="91" r="0.72"/><circle cx="385.6" cy="106" r="0.72"/><circle cx="321.8" cy="67.25" r="0.72"/><circle cx="352.6" cy="84.75" r="0.72"/><circle cx="357" cy="87.25" r="0.72"/><circle cx="361.4" cy="89.75" r="0.72"/><circle cx="374.6" cy="97.25" r="0.72"/><circle cx="392.2" cy="107.25" r="0.72"/><circle cx="328.4" cy="68.5" r="0.72"/><circle cx="332.8" cy="71" r="0.72"/><circle cx="368" cy="91" r="0.72"/><circle cx="372.4" cy="93.5" r="0.72"/><circle cx="376.8" cy="96" r="0.72"/><circle cx="381.2" cy="98.5" r="0.72"/><circle cx="390" cy="103.5" r="0.72"/><circle cx="398.8" cy="108.5" r="0.72"/><circle cx="330.6" cy="67.25" r="0.72"/><circle cx="370.2" cy="89.75" r="0.72"/><circle cx="379" cy="94.75" r="0.72"/><circle cx="383.4" cy="97.25" r="0.72"/><circle cx="392.2" cy="102.25" r="0.72"/><circle cx="341.6" cy="71" r="0.72"/><circle cx="359.2" cy="81" r="0.72"/><circle cx="368" cy="86" r="0.72"/><circle cx="372.4" cy="88.5" r="0.72"/><circle cx="387.8" cy="94.75" r="0.72"/><circle cx="346" cy="68.5" r="0.72"/><circle cx="350.4" cy="71" r="0.72"/><circle cx="359.2" cy="76" r="0.72"/><circle cx="363.6" cy="78.5" r="0.72"/><circle cx="368" cy="81" r="0.72"/><circle cx="385.6" cy="91" r="0.72"/><circle cx="348.2" cy="67.25" r="0.72"/><circle cx="361.4" cy="74.75" r="0.72"/><circle cx="350.4" cy="66" r="0.72"/><circle cx="363.6" cy="73.5" r="0.72"/><circle cx="368" cy="76" r="0.72"/><circle cx="372.4" cy="78.5" r="0.72"/><circle cx="352.6" cy="64.75" r="0.72"/><circle cx="365.8" cy="72.25" r="0.72"/><circle cx="370.2" cy="74.75" r="0.72"/><circle cx="359.2" cy="66" r="0.72"/><circle cx="376.8" cy="76" r="0.72"/><circle cx="361.4" cy="64.75" r="0.72"/><circle cx="365.8" cy="67.25" r="0.72"/><circle cx="374.6" cy="72.25" r="0.72"/><circle cx="363.6" cy="63.5" r="0.72"/></g>
<path d="M373.8,67.3l1.9,1.2l1.9,-0.7M373.8,71.1l1.9,1.2l1.9,-0.7M373.8,74.9l1.9,1.2l1.9,-0.7M377.6,67.8l1.9,1.2l1.9,-0.7M377.6,71.6l1.9,1.2l1.9,-0.7M377.6,75.4l1.9,1.2l1.9,-0.7M377.6,79.2l1.9,1.2l1.9,-0.7M377.6,83l1.9,1.2l1.9,-0.7M381.4,68.3l1.9,1.2l1.9,-0.7M381.4,72.1l1.9,1.2l1.9,-0.7M381.4,75.9l1.9,1.2l1.9,-0.7M381.4,79.7l1.9,1.2l1.9,-0.7M385.2,72.6l1.9,1.2l1.9,-0.7M385.2,76.4l1.9,1.2l1.9,-0.7M385.2,80.2l1.9,1.2l1.9,-0.7M385.2,84l1.9,1.2l1.9,-0.7M389,73.1l1.9,1.2l1.9,-0.7M389,76.9l1.9,1.2l1.9,-0.7M389,80.7l1.9,1.2l1.9,-0.7M389,84.5l1.9,1.2l1.9,-0.7M392.8,73.6l1.9,1.2l1.9,-0.7M392.8,77.4l1.9,1.2l1.9,-0.7M392.8,81.2l1.9,1.2l1.9,-0.7M392.8,85l1.9,1.2l1.9,-0.7M392.8,88.8l1.9,1.2l1.9,-0.7M396.6,74.1l1.9,1.2l1.9,-0.7M396.6,77.9l1.9,1.2l1.9,-0.7M396.6,81.7l1.9,1.2l1.9,-0.7M396.6,85.5l1.9,1.2l1.9,-0.7M396.6,89.3l1.9,1.2l1.9,-0.7M396.6,93.1l1.9,1.2l1.9,-0.7M396.6,104.5l1.9,1.2l1.9,-0.7M396.6,108.3l1.9,1.2l1.9,-0.7M396.6,112.1l1.9,1.2l1.9,-0.7M396.6,115.9l1.9,1.2l1.9,-0.7M400.4,74.6l1.9,1.2l1.9,-0.7M400.4,78.4l1.9,1.2l1.9,-0.7M400.4,82.2l1.9,1.2l1.9,-0.7M400.4,86l1.9,1.2l1.9,-0.7M400.4,89.8l1.9,1.2l1.9,-0.7M400.4,93.6l1.9,1.2l1.9,-0.7M400.4,101.2l1.9,1.2l1.9,-0.7M400.4,105l1.9,1.2l1.9,-0.7M400.4,108.8l1.9,1.2l1.9,-0.7M400.4,112.6l1.9,1.2l1.9,-0.7M400.4,116.4l1.9,1.2l1.9,-0.7M400.4,120.2l1.9,1.2l1.9,-0.7M404.2,75.1l1.9,1.2l1.9,-0.7M404.2,78.9l1.9,1.2l1.9,-0.7M404.2,82.7l1.9,1.2l1.9,-0.7M404.2,86.5l1.9,1.2l1.9,-0.7M404.2,90.3l1.9,1.2l1.9,-0.7M404.2,94.1l1.9,1.2l1.9,-0.7M404.2,97.9l1.9,1.2l1.9,-0.7M404.2,101.7l1.9,1.2l1.9,-0.7M404.2,105.5l1.9,1.2l1.9,-0.7M404.2,109.3l1.9,1.2l1.9,-0.7M404.2,113.1l1.9,1.2l1.9,-0.7M404.2,116.9l1.9,1.2l1.9,-0.7M404.2,120.7l1.9,1.2l1.9,-0.7M408,75.6l1.9,1.2l1.9,-0.7M408,79.4l1.9,1.2l1.9,-0.7M408,83.2l1.9,1.2l1.9,-0.7M408,87l1.9,1.2l1.9,-0.7M408,90.8l1.9,1.2l1.9,-0.7M408,94.6l1.9,1.2l1.9,-0.7M408,98.4l1.9,1.2l1.9,-0.7M408,102.2l1.9,1.2l1.9,-0.7M408,106l1.9,1.2l1.9,-0.7M408,109.8l1.9,1.2l1.9,-0.7M408,113.6l1.9,1.2l1.9,-0.7M408,117.4l1.9,1.2l1.9,-0.7M408,121.2l1.9,1.2l1.9,-0.7M411.8,76.1l1.9,1.2l1.9,-0.7M411.8,79.9l1.9,1.2l1.9,-0.7M411.8,83.7l1.9,1.2l1.9,-0.7M411.8,87.5l1.9,1.2l1.9,-0.7M411.8,91.3l1.9,1.2l1.9,-0.7M411.8,95.1l1.9,1.2l1.9,-0.7M411.8,98.9l1.9,1.2l1.9,-0.7M411.8,102.7l1.9,1.2l1.9,-0.7M411.8,106.5l1.9,1.2l1.9,-0.7M411.8,110.3l1.9,1.2l1.9,-0.7M411.8,114.1l1.9,1.2l1.9,-0.7M411.8,117.9l1.9,1.2l1.9,-0.7M411.8,121.7l1.9,1.2l1.9,-0.7M415.6,76.6l1.9,1.2l1.9,-0.7M415.6,80.4l1.9,1.2l1.9,-0.7M415.6,84.2l1.9,1.2l1.9,-0.7M415.6,88l1.9,1.2l1.9,-0.7M415.6,91.8l1.9,1.2l1.9,-0.7M415.6,95.6l1.9,1.2l1.9,-0.7M415.6,99.4l1.9,1.2l1.9,-0.7M415.6,103.2l1.9,1.2l1.9,-0.7M415.6,107l1.9,1.2l1.9,-0.7M415.6,110.8l1.9,1.2l1.9,-0.7M415.6,114.6l1.9,1.2l1.9,-0.7M415.6,118.4l1.9,1.2l1.9,-0.7M415.6,122.2l1.9,1.2l1.9,-0.7M419.4,77.1l1.9,1.2l1.9,-0.7M419.4,80.9l1.9,1.2l1.9,-0.7M419.4,84.7l1.9,1.2l1.9,-0.7M419.4,88.5l1.9,1.2l1.9,-0.7M419.4,92.3l1.9,1.2l1.9,-0.7M419.4,96.1l1.9,1.2l1.9,-0.7M419.4,99.9l1.9,1.2l1.9,-0.7M419.4,103.7l1.9,1.2l1.9,-0.7M419.4,107.5l1.9,1.2l1.9,-0.7M419.4,111.3l1.9,1.2l1.9,-0.7M419.4,115.1l1.9,1.2l1.9,-0.7M419.4,118.9l1.9,1.2l1.9,-0.7M419.4,122.7l1.9,1.2l1.9,-0.7M423.2,77.6l1.9,1.2l1.9,-0.7M423.2,81.4l1.9,1.2l1.9,-0.7M423.2,85.2l1.9,1.2l1.9,-0.7M423.2,89l1.9,1.2l1.9,-0.7M423.2,92.8l1.9,1.2l1.9,-0.7M423.2,96.6l1.9,1.2l1.9,-0.7M423.2,100.4l1.9,1.2l1.9,-0.7M423.2,104.2l1.9,1.2l1.9,-0.7M423.2,108l1.9,1.2l1.9,-0.7M423.2,111.8l1.9,1.2l1.9,-0.7M423.2,115.6l1.9,1.2l1.9,-0.7M423.2,119.4l1.9,1.2l1.9,-0.7M423.2,123.2l1.9,1.2l1.9,-0.7M427,78.1l1.9,1.2l1.9,-0.7M427,81.9l1.9,1.2l1.9,-0.7M427,85.7l1.9,1.2l1.9,-0.7M427,89.5l1.9,1.2l1.9,-0.7M427,93.3l1.9,1.2l1.9,-0.7M427,97.1l1.9,1.2l1.9,-0.7M427,100.9l1.9,1.2l1.9,-0.7M427,104.7l1.9,1.2l1.9,-0.7M427,108.5l1.9,1.2l1.9,-0.7M427,112.3l1.9,1.2l1.9,-0.7M427,116.1l1.9,1.2l1.9,-0.7M427,119.9l1.9,1.2l1.9,-0.7M427,123.7l1.9,1.2l1.9,-0.7M430.8,78.6l1.9,1.2l1.9,-0.7M430.8,82.4l1.9,1.2l1.9,-0.7M430.8,86.2l1.9,1.2l1.9,-0.7M430.8,90l1.9,1.2l1.9,-0.7M430.8,93.8l1.9,1.2l1.9,-0.7M430.8,97.6l1.9,1.2l1.9,-0.7M430.8,101.4l1.9,1.2l1.9,-0.7M430.8,105.2l1.9,1.2l1.9,-0.7M430.8,109l1.9,1.2l1.9,-0.7M430.8,112.8l1.9,1.2l1.9,-0.7M430.8,116.6l1.9,1.2l1.9,-0.7M430.8,120.4l1.9,1.2l1.9,-0.7M430.8,124.2l1.9,1.2l1.9,-0.7M434.6,79.1l1.9,1.2l1.9,-0.7M434.6,82.9l1.9,1.2l1.9,-0.7M434.6,86.7l1.9,1.2l1.9,-0.7M434.6,90.5l1.9,1.2l1.9,-0.7M434.6,94.3l1.9,1.2l1.9,-0.7M434.6,98.1l1.9,1.2l1.9,-0.7M434.6,101.9l1.9,1.2l1.9,-0.7M434.6,105.7l1.9,1.2l1.9,-0.7M434.6,109.5l1.9,1.2l1.9,-0.7M434.6,113.3l1.9,1.2l1.9,-0.7M434.6,117.1l1.9,1.2l1.9,-0.7M434.6,120.9l1.9,1.2l1.9,-0.7M438.4,79.6l1.9,1.2l1.9,-0.7M438.4,83.4l1.9,1.2l1.9,-0.7M438.4,87.2l1.9,1.2l1.9,-0.7M438.4,91l1.9,1.2l1.9,-0.7M438.4,94.8l1.9,1.2l1.9,-0.7M438.4,98.6l1.9,1.2l1.9,-0.7M438.4,102.4l1.9,1.2l1.9,-0.7M438.4,106.2l1.9,1.2l1.9,-0.7M438.4,110l1.9,1.2l1.9,-0.7M438.4,113.8l1.9,1.2l1.9,-0.7M438.4,117.6l1.9,1.2l1.9,-0.7M438.4,121.4l1.9,1.2l1.9,-0.7M442.2,83.9l1.9,1.2l1.9,-0.7M442.2,87.7l1.9,1.2l1.9,-0.7M442.2,91.5l1.9,1.2l1.9,-0.7M442.2,95.3l1.9,1.2l1.9,-0.7M442.2,99.1l1.9,1.2l1.9,-0.7M442.2,102.9l1.9,1.2l1.9,-0.7M442.2,106.7l1.9,1.2l1.9,-0.7M442.2,110.5l1.9,1.2l1.9,-0.7M442.2,114.3l1.9,1.2l1.9,-0.7M442.2,118.1l1.9,1.2l1.9,-0.7M442.2,121.9l1.9,1.2l1.9,-0.7M446,84.4l1.9,1.2l1.9,-0.7M446,88.2l1.9,1.2l1.9,-0.7M446,92l1.9,1.2l1.9,-0.7M446,95.8l1.9,1.2l1.9,-0.7M446,99.6l1.9,1.2l1.9,-0.7M446,103.4l1.9,1.2l1.9,-0.7M446,107.2l1.9,1.2l1.9,-0.7M446,111l1.9,1.2l1.9,-0.7M446,114.8l1.9,1.2l1.9,-0.7M446,118.6l1.9,1.2l1.9,-0.7M446,122.4l1.9,1.2l1.9,-0.7M449.8,88.7l1.9,1.2l1.9,-0.7M449.8,92.5l1.9,1.2l1.9,-0.7M449.8,96.3l1.9,1.2l1.9,-0.7M449.8,100.1l1.9,1.2l1.9,-0.7M449.8,103.9l1.9,1.2l1.9,-0.7M449.8,107.7l1.9,1.2l1.9,-0.7M449.8,111.5l1.9,1.2l1.9,-0.7M449.8,115.3l1.9,1.2l1.9,-0.7M449.8,119.1l1.9,1.2l1.9,-0.7M453.6,96.8l1.9,1.2l1.9,-0.7M453.6,100.6l1.9,1.2l1.9,-0.7M453.6,104.4l1.9,1.2l1.9,-0.7M453.6,108.2l1.9,1.2l1.9,-0.7M453.6,112l1.9,1.2l1.9,-0.7M453.6,115.8l1.9,1.2l1.9,-0.7" stroke="#c9bdd6" stroke-width="0.4" fill="none" opacity="0.8"/>
<path d="M370,64.9L370,64.9M373.8,65.4L373.8,74.9M377.6,67.8L377.6,83M381.4,68.3L381.4,81.6M385.2,70.7L385.2,84M389,71.2L389,86.4M392.8,71.7L392.8,90.7M396.6,74.1L396.6,93.1M396.6,102.6L396.6,117.8M400.4,74.6L400.4,95.5M400.4,99.3L400.4,122.1M404.2,75.1L404.2,122.6M408,75.6L408,123.1M411.8,76.1L411.8,123.6M415.6,76.6L415.6,124.1M419.4,77.1L419.4,122.7M423.2,77.6L423.2,123.2M427,78.1L427,123.7M430.8,78.6L430.8,124.2M434.6,79.1L434.6,122.8M438.4,79.6L438.4,123.3M442.2,82L442.2,123.8M446,84.4L446,122.4M449.8,88.7L449.8,121M453.6,94.9L453.6,117.7" stroke="#d6ccdf" stroke-width="0.9" fill="none" opacity="0.6" stroke-linecap="round"/>
<g fill="#b796c6" opacity="0.75"><circle cx="373.8" cy="67.3" r="0.7"/><circle cx="373.8" cy="71.1" r="0.7"/><circle cx="373.8" cy="74.9" r="0.7"/><circle cx="377.6" cy="67.8" r="0.7"/><circle cx="377.6" cy="71.6" r="0.7"/><circle cx="377.6" cy="75.4" r="0.7"/><circle cx="377.6" cy="79.2" r="0.7"/><circle cx="377.6" cy="83" r="0.7"/><circle cx="381.4" cy="68.3" r="0.7"/><circle cx="381.4" cy="72.1" r="0.7"/><circle cx="381.4" cy="75.9" r="0.7"/><circle cx="381.4" cy="79.7" r="0.7"/><circle cx="385.2" cy="72.6" r="0.7"/><circle cx="385.2" cy="76.4" r="0.7"/><circle cx="385.2" cy="80.2" r="0.7"/><circle cx="385.2" cy="84" r="0.7"/><circle cx="389" cy="73.1" r="0.7"/><circle cx="389" cy="76.9" r="0.7"/><circle cx="389" cy="80.7" r="0.7"/><circle cx="389" cy="84.5" r="0.7"/><circle cx="392.8" cy="73.6" r="0.7"/><circle cx="392.8" cy="77.4" r="0.7"/><circle cx="392.8" cy="81.2" r="0.7"/><circle cx="392.8" cy="85" r="0.7"/><circle cx="392.8" cy="88.8" r="0.7"/><circle cx="396.6" cy="74.1" r="0.7"/><circle cx="396.6" cy="77.9" r="0.7"/><circle cx="396.6" cy="81.7" r="0.7"/><circle cx="396.6" cy="85.5" r="0.7"/><circle cx="396.6" cy="89.3" r="0.7"/><circle cx="396.6" cy="93.1" r="0.7"/><circle cx="396.6" cy="104.5" r="0.7"/><circle cx="396.6" cy="108.3" r="0.7"/><circle cx="396.6" cy="112.1" r="0.7"/><circle cx="396.6" cy="115.9" r="0.7"/><circle cx="400.4" cy="74.6" r="0.7"/><circle cx="400.4" cy="78.4" r="0.7"/><circle cx="400.4" cy="82.2" r="0.7"/><circle cx="400.4" cy="86" r="0.7"/><circle cx="400.4" cy="89.8" r="0.7"/><circle cx="400.4" cy="93.6" r="0.7"/><circle cx="400.4" cy="101.2" r="0.7"/><circle cx="400.4" cy="105" r="0.7"/><circle cx="400.4" cy="108.8" r="0.7"/><circle cx="400.4" cy="112.6" r="0.7"/><circle cx="400.4" cy="116.4" r="0.7"/><circle cx="400.4" cy="120.2" r="0.7"/><circle cx="404.2" cy="75.1" r="0.7"/><circle cx="404.2" cy="78.9" r="0.7"/><circle cx="404.2" cy="82.7" r="0.7"/><circle cx="404.2" cy="86.5" r="0.7"/><circle cx="404.2" cy="90.3" r="0.7"/><circle cx="404.2" cy="94.1" r="0.7"/><circle cx="404.2" cy="97.9" r="0.7"/><circle cx="404.2" cy="101.7" r="0.7"/><circle cx="404.2" cy="105.5" r="0.7"/><circle cx="404.2" cy="109.3" r="0.7"/><circle cx="404.2" cy="113.1" r="0.7"/><circle cx="404.2" cy="116.9" r="0.7"/><circle cx="404.2" cy="120.7" r="0.7"/><circle cx="408" cy="75.6" r="0.7"/><circle cx="408" cy="79.4" r="0.7"/><circle cx="408" cy="83.2" r="0.7"/><circle cx="408" cy="87" r="0.7"/><circle cx="408" cy="90.8" r="0.7"/><circle cx="408" cy="94.6" r="0.7"/><circle cx="408" cy="98.4" r="0.7"/><circle cx="408" cy="102.2" r="0.7"/><circle cx="408" cy="106" r="0.7"/><circle cx="408" cy="109.8" r="0.7"/><circle cx="408" cy="113.6" r="0.7"/><circle cx="408" cy="117.4" r="0.7"/><circle cx="408" cy="121.2" r="0.7"/><circle cx="411.8" cy="76.1" r="0.7"/><circle cx="411.8" cy="79.9" r="0.7"/><circle cx="411.8" cy="83.7" r="0.7"/><circle cx="411.8" cy="87.5" r="0.7"/><circle cx="411.8" cy="91.3" r="0.7"/><circle cx="411.8" cy="95.1" r="0.7"/><circle cx="411.8" cy="98.9" r="0.7"/><circle cx="411.8" cy="102.7" r="0.7"/><circle cx="411.8" cy="106.5" r="0.7"/><circle cx="411.8" cy="110.3" r="0.7"/><circle cx="411.8" cy="114.1" r="0.7"/><circle cx="411.8" cy="117.9" r="0.7"/><circle cx="411.8" cy="121.7" r="0.7"/><circle cx="415.6" cy="76.6" r="0.7"/><circle cx="415.6" cy="80.4" r="0.7"/><circle cx="415.6" cy="84.2" r="0.7"/><circle cx="415.6" cy="88" r="0.7"/><circle cx="415.6" cy="91.8" r="0.7"/><circle cx="415.6" cy="95.6" r="0.7"/><circle cx="415.6" cy="99.4" r="0.7"/><circle cx="415.6" cy="103.2" r="0.7"/><circle cx="415.6" cy="107" r="0.7"/><circle cx="415.6" cy="110.8" r="0.7"/><circle cx="415.6" cy="114.6" r="0.7"/><circle cx="415.6" cy="118.4" r="0.7"/><circle cx="415.6" cy="122.2" r="0.7"/><circle cx="419.4" cy="77.1" r="0.7"/><circle cx="419.4" cy="80.9" r="0.7"/><circle cx="419.4" cy="84.7" r="0.7"/><circle cx="419.4" cy="88.5" r="0.7"/><circle cx="419.4" cy="92.3" r="0.7"/><circle cx="419.4" cy="96.1" r="0.7"/><circle cx="419.4" cy="99.9" r="0.7"/><circle cx="419.4" cy="103.7" r="0.7"/><circle cx="419.4" cy="107.5" r="0.7"/><circle cx="419.4" cy="111.3" r="0.7"/><circle cx="419.4" cy="115.1" r="0.7"/><circle cx="419.4" cy="118.9" r="0.7"/><circle cx="419.4" cy="122.7" r="0.7"/><circle cx="423.2" cy="77.6" r="0.7"/><circle cx="423.2" cy="81.4" r="0.7"/><circle cx="423.2" cy="85.2" r="0.7"/><circle cx="423.2" cy="89" r="0.7"/><circle cx="423.2" cy="92.8" r="0.7"/><circle cx="423.2" cy="96.6" r="0.7"/><circle cx="423.2" cy="100.4" r="0.7"/><circle cx="423.2" cy="104.2" r="0.7"/><circle cx="423.2" cy="108" r="0.7"/><circle cx="423.2" cy="111.8" r="0.7"/><circle cx="423.2" cy="115.6" r="0.7"/><circle cx="423.2" cy="119.4" r="0.7"/><circle cx="423.2" cy="123.2" r="0.7"/><circle cx="427" cy="78.1" r="0.7"/><circle cx="427" cy="81.9" r="0.7"/><circle cx="427" cy="85.7" r="0.7"/><circle cx="427" cy="89.5" r="0.7"/><circle cx="427" cy="93.3" r="0.7"/><circle cx="427" cy="97.1" r="0.7"/><circle cx="427" cy="100.9" r="0.7"/><circle cx="427" cy="104.7" r="0.7"/><circle cx="427" cy="108.5" r="0.7"/><circle cx="427" cy="112.3" r="0.7"/><circle cx="427" cy="116.1" r="0.7"/><circle cx="427" cy="119.9" r="0.7"/><circle cx="427" cy="123.7" r="0.7"/><circle cx="430.8" cy="78.6" r="0.7"/><circle cx="430.8" cy="82.4" r="0.7"/><circle cx="430.8" cy="86.2" r="0.7"/><circle cx="430.8" cy="90" r="0.7"/><circle cx="430.8" cy="93.8" r="0.7"/><circle cx="430.8" cy="97.6" r="0.7"/><circle cx="430.8" cy="101.4" r="0.7"/><circle cx="430.8" cy="105.2" r="0.7"/><circle cx="430.8" cy="109" r="0.7"/><circle cx="430.8" cy="112.8" r="0.7"/><circle cx="430.8" cy="116.6" r="0.7"/><circle cx="430.8" cy="120.4" r="0.7"/><circle cx="430.8" cy="124.2" r="0.7"/><circle cx="434.6" cy="79.1" r="0.7"/><circle cx="434.6" cy="82.9" r="0.7"/><circle cx="434.6" cy="86.7" r="0.7"/><circle cx="434.6" cy="90.5" r="0.7"/><circle cx="434.6" cy="94.3" r="0.7"/><circle cx="434.6" cy="98.1" r="0.7"/><circle cx="434.6" cy="101.9" r="0.7"/><circle cx="434.6" cy="105.7" r="0.7"/><circle cx="434.6" cy="109.5" r="0.7"/><circle cx="434.6" cy="113.3" r="0.7"/><circle cx="434.6" cy="117.1" r="0.7"/><circle cx="434.6" cy="120.9" r="0.7"/><circle cx="438.4" cy="79.6" r="0.7"/><circle cx="438.4" cy="83.4" r="0.7"/><circle cx="438.4" cy="87.2" r="0.7"/><circle cx="438.4" cy="91" r="0.7"/><circle cx="438.4" cy="94.8" r="0.7"/><circle cx="438.4" cy="98.6" r="0.7"/><circle cx="438.4" cy="102.4" r="0.7"/><circle cx="438.4" cy="106.2" r="0.7"/><circle cx="438.4" cy="110" r="0.7"/><circle cx="438.4" cy="113.8" r="0.7"/><circle cx="438.4" cy="117.6" r="0.7"/><circle cx="438.4" cy="121.4" r="0.7"/><circle cx="442.2" cy="83.9" r="0.7"/><circle cx="442.2" cy="87.7" r="0.7"/><circle cx="442.2" cy="91.5" r="0.7"/><circle cx="442.2" cy="95.3" r="0.7"/><circle cx="442.2" cy="99.1" r="0.7"/><circle cx="442.2" cy="102.9" r="0.7"/><circle cx="442.2" cy="106.7" r="0.7"/><circle cx="442.2" cy="110.5" r="0.7"/><circle cx="442.2" cy="114.3" r="0.7"/><circle cx="442.2" cy="118.1" r="0.7"/><circle cx="442.2" cy="121.9" r="0.7"/><circle cx="446" cy="84.4" r="0.7"/><circle cx="446" cy="88.2" r="0.7"/><circle cx="446" cy="92" r="0.7"/><circle cx="446" cy="95.8" r="0.7"/><circle cx="446" cy="99.6" r="0.7"/><circle cx="446" cy="103.4" r="0.7"/><circle cx="446" cy="107.2" r="0.7"/><circle cx="446" cy="111" r="0.7"/><circle cx="446" cy="114.8" r="0.7"/><circle cx="446" cy="118.6" r="0.7"/><circle cx="446" cy="122.4" r="0.7"/><circle cx="449.8" cy="88.7" r="0.7"/><circle cx="449.8" cy="92.5" r="0.7"/><circle cx="449.8" cy="96.3" r="0.7"/><circle cx="449.8" cy="100.1" r="0.7"/><circle cx="449.8" cy="103.9" r="0.7"/><circle cx="449.8" cy="107.7" r="0.7"/><circle cx="449.8" cy="111.5" r="0.7"/><circle cx="449.8" cy="115.3" r="0.7"/><circle cx="449.8" cy="119.1" r="0.7"/><circle cx="453.6" cy="96.8" r="0.7"/><circle cx="453.6" cy="100.6" r="0.7"/><circle cx="453.6" cy="104.4" r="0.7"/><circle cx="453.6" cy="108.2" r="0.7"/><circle cx="453.6" cy="112" r="0.7"/><circle cx="453.6" cy="115.8" r="0.7"/></g>
<g fill="#aed257" opacity="0.9"><circle cx="373.8" cy="73" r="0.7"/><circle cx="377.6" cy="69.7" r="0.7"/><circle cx="377.6" cy="81.1" r="0.7"/><circle cx="381.4" cy="70.2" r="0.7"/><circle cx="381.4" cy="81.6" r="0.7"/><circle cx="389" cy="75" r="0.7"/><circle cx="389" cy="78.8" r="0.7"/><circle cx="389" cy="82.6" r="0.7"/><circle cx="392.8" cy="79.3" r="0.7"/><circle cx="396.6" cy="83.6" r="0.7"/><circle cx="396.6" cy="87.4" r="0.7"/><circle cx="396.6" cy="106.4" r="0.7"/><circle cx="396.6" cy="114" r="0.7"/><circle cx="400.4" cy="84.1" r="0.7"/><circle cx="400.4" cy="87.9" r="0.7"/><circle cx="400.4" cy="95.5" r="0.7"/><circle cx="400.4" cy="110.7" r="0.7"/><circle cx="400.4" cy="114.5" r="0.7"/><circle cx="400.4" cy="122.1" r="0.7"/><circle cx="404.2" cy="77" r="0.7"/><circle cx="404.2" cy="80.8" r="0.7"/><circle cx="404.2" cy="88.4" r="0.7"/><circle cx="404.2" cy="96" r="0.7"/><circle cx="404.2" cy="99.8" r="0.7"/><circle cx="404.2" cy="103.6" r="0.7"/><circle cx="404.2" cy="107.4" r="0.7"/><circle cx="404.2" cy="122.6" r="0.7"/><circle cx="408" cy="96.5" r="0.7"/><circle cx="408" cy="111.7" r="0.7"/><circle cx="408" cy="119.3" r="0.7"/><circle cx="411.8" cy="85.6" r="0.7"/><circle cx="411.8" cy="97" r="0.7"/><circle cx="411.8" cy="100.8" r="0.7"/><circle cx="411.8" cy="108.4" r="0.7"/><circle cx="411.8" cy="112.2" r="0.7"/><circle cx="411.8" cy="116" r="0.7"/><circle cx="411.8" cy="123.6" r="0.7"/><circle cx="415.6" cy="89.9" r="0.7"/><circle cx="415.6" cy="101.3" r="0.7"/><circle cx="415.6" cy="108.9" r="0.7"/><circle cx="415.6" cy="112.7" r="0.7"/><circle cx="415.6" cy="120.3" r="0.7"/><circle cx="415.6" cy="124.1" r="0.7"/><circle cx="419.4" cy="82.8" r="0.7"/><circle cx="419.4" cy="86.6" r="0.7"/><circle cx="419.4" cy="98" r="0.7"/><circle cx="419.4" cy="101.8" r="0.7"/><circle cx="419.4" cy="117" r="0.7"/><circle cx="419.4" cy="120.8" r="0.7"/><circle cx="423.2" cy="87.1" r="0.7"/><circle cx="423.2" cy="90.9" r="0.7"/><circle cx="423.2" cy="106.1" r="0.7"/><circle cx="423.2" cy="113.7" r="0.7"/><circle cx="423.2" cy="117.5" r="0.7"/><circle cx="427" cy="87.6" r="0.7"/><circle cx="427" cy="99" r="0.7"/><circle cx="427" cy="102.8" r="0.7"/><circle cx="427" cy="106.6" r="0.7"/><circle cx="427" cy="110.4" r="0.7"/><circle cx="427" cy="114.2" r="0.7"/><circle cx="430.8" cy="80.5" r="0.7"/><circle cx="430.8" cy="84.3" r="0.7"/><circle cx="430.8" cy="88.1" r="0.7"/><circle cx="430.8" cy="91.9" r="0.7"/><circle cx="430.8" cy="99.5" r="0.7"/><circle cx="430.8" cy="114.7" r="0.7"/><circle cx="430.8" cy="122.3" r="0.7"/><circle cx="434.6" cy="84.8" r="0.7"/><circle cx="434.6" cy="88.6" r="0.7"/><circle cx="434.6" cy="92.4" r="0.7"/><circle cx="434.6" cy="96.2" r="0.7"/><circle cx="434.6" cy="103.8" r="0.7"/><circle cx="434.6" cy="107.6" r="0.7"/><circle cx="434.6" cy="122.8" r="0.7"/><circle cx="438.4" cy="81.5" r="0.7"/><circle cx="438.4" cy="85.3" r="0.7"/><circle cx="438.4" cy="100.5" r="0.7"/><circle cx="438.4" cy="104.3" r="0.7"/><circle cx="438.4" cy="108.1" r="0.7"/><circle cx="438.4" cy="115.7" r="0.7"/><circle cx="438.4" cy="119.5" r="0.7"/><circle cx="438.4" cy="123.3" r="0.7"/><circle cx="442.2" cy="104.8" r="0.7"/><circle cx="442.2" cy="116.2" r="0.7"/><circle cx="446" cy="93.9" r="0.7"/><circle cx="446" cy="101.5" r="0.7"/><circle cx="446" cy="116.7" r="0.7"/><circle cx="449.8" cy="90.6" r="0.7"/><circle cx="449.8" cy="102" r="0.7"/><circle cx="449.8" cy="113.4" r="0.7"/><circle cx="449.8" cy="117.2" r="0.7"/><circle cx="449.8" cy="121" r="0.7"/><circle cx="453.6" cy="98.7" r="0.7"/><circle cx="453.6" cy="102.5" r="0.7"/></g>
<g fill="#e8343a" opacity="0.9"><circle cx="370" cy="64.9" r="0.7"/><circle cx="373.8" cy="65.4" r="0.7"/><circle cx="377.6" cy="73.5" r="0.7"/><circle cx="377.6" cy="77.3" r="0.7"/><circle cx="381.4" cy="74" r="0.7"/><circle cx="385.2" cy="74.5" r="0.7"/><circle cx="385.2" cy="82.1" r="0.7"/><circle cx="392.8" cy="71.7" r="0.7"/><circle cx="392.8" cy="75.5" r="0.7"/><circle cx="392.8" cy="83.1" r="0.7"/><circle cx="392.8" cy="86.9" r="0.7"/><circle cx="392.8" cy="90.7" r="0.7"/><circle cx="396.6" cy="76" r="0.7"/><circle cx="396.6" cy="79.8" r="0.7"/><circle cx="396.6" cy="102.6" r="0.7"/><circle cx="396.6" cy="110.2" r="0.7"/><circle cx="396.6" cy="117.8" r="0.7"/><circle cx="400.4" cy="76.5" r="0.7"/><circle cx="400.4" cy="80.3" r="0.7"/><circle cx="400.4" cy="91.7" r="0.7"/><circle cx="400.4" cy="103.1" r="0.7"/><circle cx="404.2" cy="111.2" r="0.7"/><circle cx="404.2" cy="115" r="0.7"/><circle cx="404.2" cy="118.8" r="0.7"/><circle cx="408" cy="77.5" r="0.7"/><circle cx="408" cy="81.3" r="0.7"/><circle cx="408" cy="85.1" r="0.7"/><circle cx="408" cy="100.3" r="0.7"/><circle cx="408" cy="104.1" r="0.7"/><circle cx="408" cy="107.9" r="0.7"/><circle cx="408" cy="115.5" r="0.7"/><circle cx="408" cy="123.1" r="0.7"/><circle cx="411.8" cy="89.4" r="0.7"/><circle cx="411.8" cy="104.6" r="0.7"/><circle cx="411.8" cy="119.8" r="0.7"/><circle cx="415.6" cy="78.5" r="0.7"/><circle cx="415.6" cy="82.3" r="0.7"/><circle cx="415.6" cy="86.1" r="0.7"/><circle cx="415.6" cy="93.7" r="0.7"/><circle cx="415.6" cy="97.5" r="0.7"/><circle cx="415.6" cy="105.1" r="0.7"/><circle cx="419.4" cy="94.2" r="0.7"/><circle cx="419.4" cy="105.6" r="0.7"/><circle cx="423.2" cy="83.3" r="0.7"/><circle cx="423.2" cy="121.3" r="0.7"/><circle cx="427" cy="80" r="0.7"/><circle cx="427" cy="83.8" r="0.7"/><circle cx="427" cy="91.4" r="0.7"/><circle cx="427" cy="118" r="0.7"/><circle cx="430.8" cy="95.7" r="0.7"/><circle cx="430.8" cy="103.3" r="0.7"/><circle cx="430.8" cy="107.1" r="0.7"/><circle cx="430.8" cy="110.9" r="0.7"/><circle cx="430.8" cy="118.5" r="0.7"/><circle cx="434.6" cy="111.4" r="0.7"/><circle cx="434.6" cy="115.2" r="0.7"/><circle cx="434.6" cy="119" r="0.7"/><circle cx="438.4" cy="89.1" r="0.7"/><circle cx="438.4" cy="92.9" r="0.7"/><circle cx="438.4" cy="96.7" r="0.7"/><circle cx="438.4" cy="111.9" r="0.7"/><circle cx="442.2" cy="82" r="0.7"/><circle cx="442.2" cy="89.6" r="0.7"/><circle cx="442.2" cy="101" r="0.7"/><circle cx="442.2" cy="120" r="0.7"/><circle cx="442.2" cy="123.8" r="0.7"/><circle cx="446" cy="90.1" r="0.7"/><circle cx="446" cy="97.7" r="0.7"/><circle cx="446" cy="109.1" r="0.7"/><circle cx="449.8" cy="94.4" r="0.7"/><circle cx="449.8" cy="105.8" r="0.7"/><circle cx="449.8" cy="109.6" r="0.7"/><circle cx="453.6" cy="94.9" r="0.7"/><circle cx="453.6" cy="110.1" r="0.7"/></g>
<path d="M373.8,68.3l1.9,1.1l1.9,-0.6M377.6,68.8l1.9,1.1l1.9,-0.6M377.6,72.6l1.9,1.1l1.9,-0.6M381.4,69.3l1.9,1.1l1.9,-0.6M381.4,73.1l1.9,1.1l1.9,-0.6M381.4,76.9l1.9,1.1l1.9,-0.6M385.2,69.8l1.9,1.1l1.9,-0.6M385.2,73.6l1.9,1.1l1.9,-0.6M385.2,77.4l1.9,1.1l1.9,-0.6M385.2,81.2l1.9,1.1l1.9,-0.6M389,74.1l1.9,1.1l1.9,-0.6M389,77.9l1.9,1.1l1.9,-0.6M389,81.7l1.9,1.1l1.9,-0.6M389,85.5l1.9,1.1l1.9,-0.6M392.8,74.6l1.9,1.1l1.9,-0.6M392.8,78.4l1.9,1.1l1.9,-0.6M392.8,82.2l1.9,1.1l1.9,-0.6M392.8,86l1.9,1.1l1.9,-0.6M392.8,89.8l1.9,1.1l1.9,-0.6M396.6,75.1l1.9,1.1l1.9,-0.6M396.6,78.9l1.9,1.1l1.9,-0.6M396.6,82.7l1.9,1.1l1.9,-0.6M396.6,86.5l1.9,1.1l1.9,-0.6M396.6,90.3l1.9,1.1l1.9,-0.6M400.4,75.6l1.9,1.1l1.9,-0.6M400.4,79.4l1.9,1.1l1.9,-0.6M400.4,83.2l1.9,1.1l1.9,-0.6M400.4,87l1.9,1.1l1.9,-0.6M400.4,90.8l1.9,1.1l1.9,-0.6M400.4,94.6l1.9,1.1l1.9,-0.6M404.2,76.1l1.9,1.1l1.9,-0.6M404.2,79.9l1.9,1.1l1.9,-0.6M404.2,83.7l1.9,1.1l1.9,-0.6M404.2,87.5l1.9,1.1l1.9,-0.6M404.2,91.3l1.9,1.1l1.9,-0.6M404.2,95.1l1.9,1.1l1.9,-0.6M408,76.6l1.9,1.1l1.9,-0.6M408,80.4l1.9,1.1l1.9,-0.6M408,84.2l1.9,1.1l1.9,-0.6M408,88l1.9,1.1l1.9,-0.6M408,91.8l1.9,1.1l1.9,-0.6M411.8,77.1l1.9,1.1l1.9,-0.6M411.8,80.9l1.9,1.1l1.9,-0.6M411.8,84.7l1.9,1.1l1.9,-0.6M411.8,88.5l1.9,1.1l1.9,-0.6M411.8,92.3l1.9,1.1l1.9,-0.6M415.6,77.6l1.9,1.1l1.9,-0.6M415.6,81.4l1.9,1.1l1.9,-0.6M415.6,85.2l1.9,1.1l1.9,-0.6M415.6,89l1.9,1.1l1.9,-0.6M415.6,92.8l1.9,1.1l1.9,-0.6M419.4,78.1l1.9,1.1l1.9,-0.6M419.4,81.9l1.9,1.1l1.9,-0.6M419.4,85.7l1.9,1.1l1.9,-0.6M419.4,89.5l1.9,1.1l1.9,-0.6M423.2,78.6l1.9,1.1l1.9,-0.6M423.2,82.4l1.9,1.1l1.9,-0.6M423.2,86.2l1.9,1.1l1.9,-0.6M423.2,90l1.9,1.1l1.9,-0.6M427,79.1l1.9,1.1l1.9,-0.6M427,82.9l1.9,1.1l1.9,-0.6M427,86.7l1.9,1.1l1.9,-0.6M427,90.5l1.9,1.1l1.9,-0.6M430.8,79.6l1.9,1.1l1.9,-0.6M430.8,83.4l1.9,1.1l1.9,-0.6M430.8,87.2l1.9,1.1l1.9,-0.6M434.6,80.1l1.9,1.1l1.9,-0.6M434.6,83.9l1.9,1.1l1.9,-0.6M434.6,87.7l1.9,1.1l1.9,-0.6M438.4,80.6l1.9,1.1l1.9,-0.6M438.4,84.4l1.9,1.1l1.9,-0.6M438.4,88.2l1.9,1.1l1.9,-0.6M442.2,84.9l1.9,1.1l1.9,-0.6M442.2,88.7l1.9,1.1l1.9,-0.6M446,85.4l1.9,1.1l1.9,-0.6M446,89.2l1.9,1.1l1.9,-0.6" stroke="#b5a9c0" stroke-width="0.4" fill="none" opacity="0.8"/>
<g fill="#a898b6" opacity="0.75"><circle cx="375.7" cy="66.6" r="0.55"/><circle cx="375.7" cy="68.5" r="0.55"/><circle cx="379.5" cy="69" r="0.55"/><circle cx="379.5" cy="70.9" r="0.55"/><circle cx="379.5" cy="72.8" r="0.55"/><circle cx="379.5" cy="74.7" r="0.55"/><circle cx="383.3" cy="69.5" r="0.55"/><circle cx="383.3" cy="71.4" r="0.55"/><circle cx="383.3" cy="73.3" r="0.55"/><circle cx="383.3" cy="75.2" r="0.55"/><circle cx="383.3" cy="77.1" r="0.55"/><circle cx="383.3" cy="79" r="0.55"/><circle cx="387.1" cy="70" r="0.55"/><circle cx="387.1" cy="71.9" r="0.55"/><circle cx="387.1" cy="73.8" r="0.55"/><circle cx="387.1" cy="75.7" r="0.55"/><circle cx="387.1" cy="77.6" r="0.55"/><circle cx="387.1" cy="79.5" r="0.55"/><circle cx="387.1" cy="81.4" r="0.55"/><circle cx="387.1" cy="83.3" r="0.55"/><circle cx="390.9" cy="72.4" r="0.55"/><circle cx="390.9" cy="74.3" r="0.55"/><circle cx="390.9" cy="76.2" r="0.55"/><circle cx="390.9" cy="78.1" r="0.55"/><circle cx="390.9" cy="80" r="0.55"/><circle cx="390.9" cy="81.9" r="0.55"/><circle cx="390.9" cy="83.8" r="0.55"/><circle cx="390.9" cy="85.7" r="0.55"/><circle cx="394.7" cy="72.9" r="0.55"/><circle cx="394.7" cy="74.8" r="0.55"/><circle cx="394.7" cy="76.7" r="0.55"/><circle cx="394.7" cy="78.6" r="0.55"/><circle cx="394.7" cy="80.5" r="0.55"/><circle cx="394.7" cy="82.4" r="0.55"/><circle cx="394.7" cy="84.3" r="0.55"/><circle cx="394.7" cy="86.2" r="0.55"/><circle cx="394.7" cy="88.1" r="0.55"/><circle cx="394.7" cy="90" r="0.55"/><circle cx="398.5" cy="73.4" r="0.55"/><circle cx="398.5" cy="75.3" r="0.55"/><circle cx="398.5" cy="77.2" r="0.55"/><circle cx="398.5" cy="79.1" r="0.55"/><circle cx="398.5" cy="81" r="0.55"/><circle cx="398.5" cy="82.9" r="0.55"/><circle cx="398.5" cy="84.8" r="0.55"/><circle cx="398.5" cy="86.7" r="0.55"/><circle cx="398.5" cy="88.6" r="0.55"/><circle cx="398.5" cy="90.5" r="0.55"/><circle cx="398.5" cy="92.4" r="0.55"/><circle cx="402.3" cy="75.8" r="0.55"/><circle cx="402.3" cy="77.7" r="0.55"/><circle cx="402.3" cy="79.6" r="0.55"/><circle cx="402.3" cy="81.5" r="0.55"/><circle cx="402.3" cy="83.4" r="0.55"/><circle cx="402.3" cy="85.3" r="0.55"/><circle cx="402.3" cy="87.2" r="0.55"/><circle cx="402.3" cy="89.1" r="0.55"/><circle cx="402.3" cy="91" r="0.55"/><circle cx="402.3" cy="92.9" r="0.55"/><circle cx="402.3" cy="94.8" r="0.55"/><circle cx="406.1" cy="76.3" r="0.55"/><circle cx="406.1" cy="78.2" r="0.55"/><circle cx="406.1" cy="80.1" r="0.55"/><circle cx="406.1" cy="82" r="0.55"/><circle cx="406.1" cy="83.9" r="0.55"/><circle cx="406.1" cy="85.8" r="0.55"/><circle cx="406.1" cy="87.7" r="0.55"/><circle cx="406.1" cy="89.6" r="0.55"/><circle cx="406.1" cy="91.5" r="0.55"/><circle cx="406.1" cy="93.4" r="0.55"/><circle cx="406.1" cy="95.3" r="0.55"/><circle cx="409.9" cy="76.8" r="0.55"/><circle cx="409.9" cy="78.7" r="0.55"/><circle cx="409.9" cy="80.6" r="0.55"/><circle cx="409.9" cy="82.5" r="0.55"/><circle cx="409.9" cy="84.4" r="0.55"/><circle cx="409.9" cy="86.3" r="0.55"/><circle cx="409.9" cy="88.2" r="0.55"/><circle cx="409.9" cy="90.1" r="0.55"/><circle cx="409.9" cy="92" r="0.55"/><circle cx="409.9" cy="93.9" r="0.55"/><circle cx="413.7" cy="77.3" r="0.55"/><circle cx="413.7" cy="79.2" r="0.55"/><circle cx="413.7" cy="81.1" r="0.55"/><circle cx="413.7" cy="83" r="0.55"/><circle cx="413.7" cy="84.9" r="0.55"/><circle cx="413.7" cy="86.8" r="0.55"/><circle cx="413.7" cy="88.7" r="0.55"/><circle cx="413.7" cy="90.6" r="0.55"/><circle cx="413.7" cy="92.5" r="0.55"/><circle cx="413.7" cy="94.4" r="0.55"/><circle cx="417.5" cy="77.8" r="0.55"/><circle cx="417.5" cy="79.7" r="0.55"/><circle cx="417.5" cy="81.6" r="0.55"/><circle cx="417.5" cy="83.5" r="0.55"/><circle cx="417.5" cy="85.4" r="0.55"/><circle cx="417.5" cy="87.3" r="0.55"/><circle cx="417.5" cy="89.2" r="0.55"/><circle cx="417.5" cy="91.1" r="0.55"/><circle cx="417.5" cy="93" r="0.55"/><circle cx="421.3" cy="78.3" r="0.55"/><circle cx="421.3" cy="80.2" r="0.55"/><circle cx="421.3" cy="82.1" r="0.55"/><circle cx="421.3" cy="84" r="0.55"/><circle cx="421.3" cy="85.9" r="0.55"/><circle cx="421.3" cy="87.8" r="0.55"/><circle cx="421.3" cy="89.7" r="0.55"/><circle cx="421.3" cy="91.6" r="0.55"/><circle cx="425.1" cy="78.8" r="0.55"/><circle cx="425.1" cy="80.7" r="0.55"/><circle cx="425.1" cy="82.6" r="0.55"/><circle cx="425.1" cy="84.5" r="0.55"/><circle cx="425.1" cy="86.4" r="0.55"/><circle cx="425.1" cy="88.3" r="0.55"/><circle cx="425.1" cy="90.2" r="0.55"/><circle cx="425.1" cy="92.1" r="0.55"/><circle cx="428.9" cy="79.3" r="0.55"/><circle cx="428.9" cy="81.2" r="0.55"/><circle cx="428.9" cy="83.1" r="0.55"/><circle cx="428.9" cy="85" r="0.55"/><circle cx="428.9" cy="86.9" r="0.55"/><circle cx="428.9" cy="88.8" r="0.55"/><circle cx="428.9" cy="90.7" r="0.55"/><circle cx="432.7" cy="79.8" r="0.55"/><circle cx="432.7" cy="81.7" r="0.55"/><circle cx="432.7" cy="83.6" r="0.55"/><circle cx="432.7" cy="85.5" r="0.55"/><circle cx="432.7" cy="87.4" r="0.55"/><circle cx="432.7" cy="89.3" r="0.55"/><circle cx="436.5" cy="80.3" r="0.55"/><circle cx="436.5" cy="82.2" r="0.55"/><circle cx="436.5" cy="84.1" r="0.55"/><circle cx="436.5" cy="86" r="0.55"/><circle cx="436.5" cy="87.9" r="0.55"/><circle cx="436.5" cy="89.8" r="0.55"/><circle cx="440.3" cy="80.8" r="0.55"/><circle cx="440.3" cy="82.7" r="0.55"/><circle cx="440.3" cy="84.6" r="0.55"/><circle cx="440.3" cy="86.5" r="0.55"/><circle cx="440.3" cy="88.4" r="0.55"/><circle cx="444.1" cy="83.2" r="0.55"/><circle cx="444.1" cy="85.1" r="0.55"/><circle cx="444.1" cy="87" r="0.55"/><circle cx="444.1" cy="88.9" r="0.55"/><circle cx="447.9" cy="85.6" r="0.55"/><circle cx="447.9" cy="87.5" r="0.55"/><circle cx="447.9" cy="89.4" r="0.55"/><circle cx="447.9" cy="91.3" r="0.55"/><circle cx="451.7" cy="91.8" r="0.55"/></g>
<polygon points="377.5,84.8 384.5,82.3 402.5,99.5" fill="#fff" opacity="0.92"/>
</g>
<path d="M398,122L401.6,119.85L405.2,122.1L408.8,119.95L412.4,122.2L416,120.05L419.6,122.3L423.2,120.15L426.8,122.4L430.4,120.25L434,122.5L437.6,120.35L441.2,122.6L444.8,120.45L448.4,122.7L452,120.55L455.6,122.8" stroke="#e6dcea" stroke-width="0.6" fill="none" opacity="0.8"/>
<pattern id="hexg" width="2.2" height="1.9" patternUnits="userSpaceOnUse" patternTransform="rotate(24)"><path d="M0,0.48L0.55,0L1.65,0L2.2,0.48M0,0.48L0.55,0.95L1.65,0.95L2.2,0.48M0.55,0.95L0,1.43L0.55,1.9M1.65,0.95L2.2,1.43L1.65,1.9M0.55,1.9" fill="none" stroke="#6f6f6f" stroke-width="0.28"/></pattern>
<pattern id="hexw" width="2.2" height="1.9" patternUnits="userSpaceOnUse" patternTransform="rotate(24)"><path d="M0,0.48L0.55,0L1.65,0L2.2,0.48M0,0.48L0.55,0.95L1.65,0.95L2.2,0.48M0.55,0.95L0,1.43L0.55,1.9M1.65,0.95L2.2,1.43L1.65,1.9" fill="none" stroke="#e2e2e2" stroke-width="0.3"/></pattern>
<pattern id="hexp" width="2.2" height="1.9" patternUnits="userSpaceOnUse" patternTransform="rotate(24)"><path d="M0,0.48L0.55,0L1.65,0L2.2,0.48M0,0.48L0.55,0.95L1.65,0.95L2.2,0.48M0.55,0.95L0,1.43L0.55,1.9M1.65,0.95L2.2,1.43L1.65,1.9" fill="none" stroke="#ecd8f2" stroke-width="0.3"/></pattern>
<polygon points="441,80.5 448,83 458.5,92.5 453,95 447,93.5 438,86" fill="url(#hexg)" opacity="0.9"/>
<polygon fill="#bfa634" points="452.7,94.1 457.8,91.9 493.8,108.6 488,107.2"/>
<polygon fill="#0b0b0b" points="452.7,94.1 488,107.2 488,120.4 452.7,105.1"/>
<polygon fill="#b39c30" points="488,107.2 493.8,108.6 493.8,119.4 488,120.4"/>
<polygon points="452.7,94.3 468,100 480,117 463,109.6 452.7,101" fill="url(#hexw)" opacity="0.85"/>
<polygon points="461,110.5 464,109.5 487,119.5 484,121.5" fill="url(#hexp)" opacity="0.9"/>
<text x="490.9" y="117.2" text-anchor="middle" font-family="'Liberation Serif',serif" font-weight="bold" font-size="7.5" fill="#111">S</text>
<polygon fill="#8d7c26" points="261.6,108.2 262.8,107.8 262.8,143.2 261.6,142.6"/>
<polygon fill="#ac9930" points="262.6,107.8 272.8,107.8 272.8,142 262.6,143.2"/>
<text x="267.7" y="137.7" text-anchor="middle" font-family="'Liberation Serif',serif" font-weight="bold" font-size="8" fill="#111">D</text>
<path d="M269.4,125V20H299.4 M302.3,20.3H310.4 M320.6,21.5L485.6,20V106 M485.6,94.2H522.9V135.4 M509,135.4H516.7 M519.4,135.4H526.4" stroke="#3d3d40" stroke-width="0.95" fill="none"/>
<path d="M269.3,84V125" stroke="#111" stroke-width="1.25" fill="none"/>
<path d="M299.4,13V27.6 M302.3,17.4V24 M516.7,128.6V142.7 M519.4,132.1V138.6 M526.4,130.1V140.6 M528.7,131.6V138.6 M530.4,133.6V137.1" stroke="#3d3d40" stroke-width="0.95" fill="none"/>
<circle cx="315.5" cy="21.7" r="5.1" fill="#fff" stroke="#3d3d40" stroke-width="0.8"/>
<text x="315.5" y="24.6" text-anchor="middle" font-family="'Liberation Sans',Arial,sans-serif" font-size="8" fill="#222">A</text>
<text x="304.3" y="40" font-family="'Liberation Serif',serif" font-weight="bold" font-size="10" fill="#111">V<tspan font-size="6.5" dy="2.2">ds</tspan></text>
<text x="274.3" y="112.3" font-family="'Liberation Serif',serif" font-weight="bold" font-size="7.6" fill="#222" stroke="#222" stroke-width="0.28" textLength="29.6" lengthAdjust="spacingAndGlyphs">Graphene</text>
<text x="450.7" y="81.2" font-family="'Liberation Serif',serif" font-weight="bold" font-size="7.6" fill="#222" stroke="#222" stroke-width="0.28" textLength="29.6" lengthAdjust="spacingAndGlyphs">Graphene</text>
<text x="334.7" y="59.3" font-family="'Liberation Serif',serif" font-weight="bold" font-size="8.2" fill="#e8a030" stroke="#e8a030" stroke-width="0.15" textLength="29" lengthAdjust="spacingAndGlyphs">InS<tspan font-size="4.8" dy="1.5">0.3</tspan><tspan dy="-1.5">Se</tspan><tspan font-size="4.8" dy="1.5">0.7</tspan></text>
<text x="343" y="135.9" font-family="'Liberation Serif',serif" font-weight="bold" font-size="8.2" fill="#169a52" stroke="#169a52" stroke-width="0.15" textLength="12.4" lengthAdjust="spacingAndGlyphs">WS<tspan font-size="4.8" dy="1.6">2</tspan></text>
<text x="394.6" y="137.5" font-family="'Liberation Serif',serif" font-size="8.8" fill="#1c1c90" stroke="#1c1c90" stroke-width="0.2" textLength="11.8" lengthAdjust="spacingAndGlyphs">SiO<tspan font-size="5" dy="1.5">2</tspan></text>
<text x="399" y="148" font-family="'Liberation Serif',serif" font-size="9" fill="#333" stroke="#333" stroke-width="0.15" textLength="4.6" lengthAdjust="spacingAndGlyphs">Si</text>
<defs>
<radialGradient id="gC" cx="0.38" cy="0.35" r="0.7"><stop offset="0" stop-color="#e0e0e0"/><stop offset="1" stop-color="#4a4a4a"/></radialGradient>
<radialGradient id="gIn" cx="0.38" cy="0.35" r="0.7"><stop offset="0" stop-color="#f0b8ea"/><stop offset="1" stop-color="#8c3888"/></radialGradient>
<radialGradient id="gSe" cx="0.38" cy="0.35" r="0.7"><stop offset="0" stop-color="#ccf060"/><stop offset="1" stop-color="#4c8a04"/></radialGradient>
<radialGradient id="gS" cx="0.38" cy="0.35" r="0.7"><stop offset="0" stop-color="#ff6a5a"/><stop offset="1" stop-color="#a80404"/></radialGradient>
<radialGradient id="gW" cx="0.38" cy="0.35" r="0.7"><stop offset="0" stop-color="#a8a8a8"/><stop offset="1" stop-color="#2a2a2a"/></radialGradient>
</defs>
<circle cx="497.4" cy="29.4" r="2.85" fill="url(#gC)"/>
<text x="502.3" y="30.5" font-family="'Liberation Sans',Arial,sans-serif" font-weight="bold" font-size="3.4" fill="#444">C</text>
<circle cx="497.4" cy="38" r="2.85" fill="url(#gIn)"/>
<text x="502.3" y="39.1" font-family="'Liberation Sans',Arial,sans-serif" font-weight="bold" font-size="3.4" fill="#444">In</text>
<circle cx="497.4" cy="46.2" r="2.85" fill="url(#gSe)"/>
<text x="502.3" y="47.300000000000004" font-family="'Liberation Sans',Arial,sans-serif" font-weight="bold" font-size="3.4" fill="#444">Se</text>
<circle cx="497.4" cy="54.8" r="2.85" fill="url(#gS)"/>
<text x="502.3" y="55.9" font-family="'Liberation Sans',Arial,sans-serif" font-weight="bold" font-size="3.4" fill="#444">S</text>
<circle cx="497.4" cy="63.3" r="2.85" fill="url(#gW)"/>
<text x="502.3" y="64.39999999999999" font-family="'Liberation Sans',Arial,sans-serif" font-weight="bold" font-size="3.4" fill="#444">W</text>
</g>
<text x="232.9" y="26.3" font-family="'Liberation Serif',serif" font-size="22.3" fill="#111">(b)</text>
<g id="pc">
<rect x="46.3" y="203.6" width="222.7" height="85.1" fill="#fff" stroke="#6e6e6e" stroke-width="0.85"/>
<rect x="46.3" y="288.7" width="222.7" height="84.90000000000003" fill="#fff" stroke="#6e6e6e" stroke-width="0.85"/>
<text x="43.2" y="287" text-anchor="end" font-family="'Liberation Sans',Arial,sans-serif" font-size="7.5" fill="#333">-30</text>
<text x="43.2" y="273.9" text-anchor="end" font-family="'Liberation Sans',Arial,sans-serif" font-size="7.5" fill="#333">-20</text>
<text x="43.2" y="260.8" text-anchor="end" font-family="'Liberation Sans',Arial,sans-serif" font-size="7.5" fill="#333">-10</text>
<text x="43.2" y="247.7" text-anchor="end" font-family="'Liberation Sans',Arial,sans-serif" font-size="7.5" fill="#333">0</text>
<text x="43.2" y="234.6" text-anchor="end" font-family="'Liberation Sans',Arial,sans-serif" font-size="7.5" fill="#333">10</text>
<text x="43.2" y="221.5" text-anchor="end" font-family="'Liberation Sans',Arial,sans-serif" font-size="7.5" fill="#333">20</text>
<text x="43.2" y="208.4" text-anchor="end" font-family="'Liberation Sans',Arial,sans-serif" font-size="7.5" fill="#333">30</text>
<text x="70.5" y="297.6" text-anchor="middle" font-family="'Liberation Sans',Arial,sans-serif" font-size="7.5" fill="#333">-4</text>
<text x="114.2" y="297.6" text-anchor="middle" font-family="'Liberation Sans',Arial,sans-serif" font-size="7.5" fill="#333">-2</text>
<text x="157.9" y="297.6" text-anchor="middle" font-family="'Liberation Sans',Arial,sans-serif" font-size="7.5" fill="#333">0</text>
<text x="201.6" y="297.6" text-anchor="middle" font-family="'Liberation Sans',Arial,sans-serif" font-size="7.5" fill="#333">2</text>
<text x="245.3" y="297.6" text-anchor="middle" font-family="'Liberation Sans',Arial,sans-serif" font-size="7.5" fill="#333">4</text>
<text x="43.2" y="369.72" text-anchor="end" font-family="'Liberation Sans',Arial,sans-serif" font-size="7.5" fill="#333">-6</text>
<text x="43.2" y="351.51" text-anchor="end" font-family="'Liberation Sans',Arial,sans-serif" font-size="7.5" fill="#333">-3</text>
<text x="43.2" y="333.3" text-anchor="end" font-family="'Liberation Sans',Arial,sans-serif" font-size="7.5" fill="#333">0</text>
<text x="43.2" y="315.09" text-anchor="end" font-family="'Liberation Sans',Arial,sans-serif" font-size="7.5" fill="#333">3</text>
<text x="43.2" y="296.88" text-anchor="end" font-family="'Liberation Sans',Arial,sans-serif" font-size="7.5" fill="#333">6</text>
<text x="76.9" y="383.1" text-anchor="middle" font-family="'Liberation Sans',Arial,sans-serif" font-size="7.5" fill="#333">-4</text>
<text x="117.4" y="383.1" text-anchor="middle" font-family="'Liberation Sans',Arial,sans-serif" font-size="7.5" fill="#333">-2</text>
<text x="157.9" y="383.1" text-anchor="middle" font-family="'Liberation Sans',Arial,sans-serif" font-size="7.5" fill="#333">0</text>
<text x="198.4" y="383.1" text-anchor="middle" font-family="'Liberation Sans',Arial,sans-serif" font-size="7.5" fill="#333">2</text>
<text x="238.9" y="383.1" text-anchor="middle" font-family="'Liberation Sans',Arial,sans-serif" font-size="7.5" fill="#333">4</text>
<path d="M46.3,284.5h-2.5M46.3,277.95h-1.1M46.3,271.4h-2.5M46.3,264.85h-1.1M46.3,258.3h-2.5M46.3,251.75h-1.1M46.3,245.2h-2.5M46.3,238.65h-1.1M46.3,232.1h-2.5M46.3,225.55h-1.1M46.3,219h-2.5M46.3,212.45h-1.1M46.3,205.9h-2.5M48.65,288.7v-1.1M70.5,288.7v-2.5M92.35,288.7v-1.1M114.2,288.7v-2.5M136.05,288.7v-1.1M157.9,288.7v-2.5M179.75,288.7v-1.1M201.6,288.7v-2.5M223.45,288.7v-1.1M245.3,288.7v-2.5M267.15,288.7v-1.1M46.3,367.22h-2.5M46.3,358.12h-1.1M46.3,349.01h-2.5M46.3,339.91h-1.1M46.3,330.8h-2.5M46.3,321.69h-1.1M46.3,312.59h-2.5M46.3,303.49h-1.1M46.3,294.38h-2.5M56.65,373.6v1.1M76.9,373.6v2.5M97.15,373.6v1.1M117.4,373.6v2.5M137.65,373.6v1.1M157.9,373.6v2.5M178.15,373.6v1.1M198.4,373.6v2.5M218.65,373.6v1.1M238.9,373.6v2.5M259.15,373.6v1.1" stroke="#6e6e6e" stroke-width="0.6" fill="none"/>
<path d="M47.55,284.05h2.2v2.2h-2.2zM49.73,283.28h2.2v2.2h-2.2zM51.92,282.5h2.2v2.2h-2.2zM54.1,281.72h2.2v2.2h-2.2zM56.29,280.94h2.2v2.2h-2.2zM58.48,280.16h2.2v2.2h-2.2zM60.66,279.38h2.2v2.2h-2.2zM62.85,278.6h2.2v2.2h-2.2zM65.03,277.82h2.2v2.2h-2.2zM67.22,277.04h2.2v2.2h-2.2zM69.4,276.26h2.2v2.2h-2.2zM71.59,275.48h2.2v2.2h-2.2zM73.77,274.7h2.2v2.2h-2.2zM75.95,273.92h2.2v2.2h-2.2zM78.14,273.14h2.2v2.2h-2.2zM80.33,272.36h2.2v2.2h-2.2zM82.51,271.58h2.2v2.2h-2.2zM84.7,270.8h2.2v2.2h-2.2zM86.88,270.02h2.2v2.2h-2.2zM89.07,269.25h2.2v2.2h-2.2zM91.25,268.47h2.2v2.2h-2.2zM93.44,267.69h2.2v2.2h-2.2zM95.62,266.91h2.2v2.2h-2.2zM97.81,266.13h2.2v2.2h-2.2zM99.99,265.35h2.2v2.2h-2.2zM102.18,264.57h2.2v2.2h-2.2zM104.36,263.79h2.2v2.2h-2.2zM106.55,263.01h2.2v2.2h-2.2zM108.73,262.23h2.2v2.2h-2.2zM110.92,261.45h2.2v2.2h-2.2zM113.1,260.67h2.2v2.2h-2.2zM115.29,259.89h2.2v2.2h-2.2zM117.47,259.11h2.2v2.2h-2.2zM119.66,258.33h2.2v2.2h-2.2zM121.84,257.55h2.2v2.2h-2.2zM124.03,256.77h2.2v2.2h-2.2zM126.21,255.99h2.2v2.2h-2.2zM128.4,255.22h2.2v2.2h-2.2zM130.58,254.44h2.2v2.2h-2.2zM132.77,253.66h2.2v2.2h-2.2zM134.95,252.88h2.2v2.2h-2.2zM137.13,252.1h2.2v2.2h-2.2zM139.32,251.32h2.2v2.2h-2.2zM141.5,250.54h2.2v2.2h-2.2zM143.69,249.76h2.2v2.2h-2.2zM145.88,248.98h2.2v2.2h-2.2zM148.06,248.2h2.2v2.2h-2.2zM150.25,247.42h2.2v2.2h-2.2zM152.43,246.64h2.2v2.2h-2.2zM154.62,245.86h2.2v2.2h-2.2zM156.8,245.08h2.2v2.2h-2.2zM158.99,244.3h2.2v2.2h-2.2zM161.17,243.52h2.2v2.2h-2.2zM163.36,242.74h2.2v2.2h-2.2zM165.54,241.96h2.2v2.2h-2.2zM167.73,241.19h2.2v2.2h-2.2zM169.91,240.41h2.2v2.2h-2.2zM172.1,239.63h2.2v2.2h-2.2zM174.28,238.85h2.2v2.2h-2.2zM176.47,238.07h2.2v2.2h-2.2zM178.65,237.29h2.2v2.2h-2.2zM180.84,236.51h2.2v2.2h-2.2zM183.02,235.73h2.2v2.2h-2.2zM185.21,234.95h2.2v2.2h-2.2zM187.39,234.17h2.2v2.2h-2.2zM189.58,233.39h2.2v2.2h-2.2zM191.76,232.61h2.2v2.2h-2.2zM193.95,231.83h2.2v2.2h-2.2zM196.13,231.05h2.2v2.2h-2.2zM198.32,230.27h2.2v2.2h-2.2zM200.5,229.49h2.2v2.2h-2.2zM202.69,228.71h2.2v2.2h-2.2zM204.87,227.93h2.2v2.2h-2.2zM207.06,227.16h2.2v2.2h-2.2zM209.24,226.38h2.2v2.2h-2.2zM211.43,225.6h2.2v2.2h-2.2zM213.61,224.82h2.2v2.2h-2.2zM215.8,224.04h2.2v2.2h-2.2zM217.98,223.26h2.2v2.2h-2.2zM220.17,222.48h2.2v2.2h-2.2zM222.35,221.7h2.2v2.2h-2.2zM224.53,220.92h2.2v2.2h-2.2zM226.72,220.14h2.2v2.2h-2.2zM228.91,219.36h2.2v2.2h-2.2zM231.09,218.58h2.2v2.2h-2.2zM233.28,217.8h2.2v2.2h-2.2zM235.46,217.02h2.2v2.2h-2.2zM237.65,216.24h2.2v2.2h-2.2zM239.83,215.46h2.2v2.2h-2.2zM242.02,214.68h2.2v2.2h-2.2zM244.2,213.9h2.2v2.2h-2.2zM246.39,213.13h2.2v2.2h-2.2zM248.57,212.35h2.2v2.2h-2.2zM250.76,211.57h2.2v2.2h-2.2zM252.94,210.79h2.2v2.2h-2.2zM255.13,210.01h2.2v2.2h-2.2zM257.31,209.23h2.2v2.2h-2.2zM259.5,208.45h2.2v2.2h-2.2zM261.68,207.67h2.2v2.2h-2.2zM263.87,206.89h2.2v2.2h-2.2zM266.05,206.11h2.2v2.2h-2.2z" stroke="#f39c42" stroke-width="0.6" fill="#fffaf2"/>
<g stroke="#58ad5c" stroke-width="0.55" fill="#f2faf0"><circle cx="56.65" cy="371.47" r="1.7"/><circle cx="58.67" cy="370.69" r="1.7"/><circle cx="60.7" cy="369.9" r="1.7"/><circle cx="62.73" cy="369.12" r="1.7"/><circle cx="64.75" cy="368.34" r="1.7"/><circle cx="66.78" cy="367.55" r="1.7"/><circle cx="68.8" cy="366.77" r="1.7"/><circle cx="70.83" cy="365.99" r="1.7"/><circle cx="72.85" cy="365.2" r="1.7"/><circle cx="74.88" cy="364.42" r="1.7"/><circle cx="76.9" cy="363.64" r="1.7"/><circle cx="78.93" cy="362.86" r="1.7"/><circle cx="80.95" cy="362.07" r="1.7"/><circle cx="82.98" cy="361.29" r="1.7"/><circle cx="85" cy="360.51" r="1.7"/><circle cx="87.03" cy="359.72" r="1.7"/><circle cx="89.05" cy="358.94" r="1.7"/><circle cx="91.08" cy="358.16" r="1.7"/><circle cx="93.1" cy="357.37" r="1.7"/><circle cx="95.12" cy="356.59" r="1.7"/><circle cx="97.15" cy="355.81" r="1.7"/><circle cx="99.18" cy="355.03" r="1.7"/><circle cx="101.2" cy="354.24" r="1.7"/><circle cx="103.22" cy="353.46" r="1.7"/><circle cx="105.25" cy="352.68" r="1.7"/><circle cx="107.28" cy="351.89" r="1.7"/><circle cx="109.3" cy="351.11" r="1.7"/><circle cx="111.33" cy="350.33" r="1.7"/><circle cx="113.35" cy="349.54" r="1.7"/><circle cx="115.38" cy="348.76" r="1.7"/><circle cx="117.4" cy="347.98" r="1.7"/><circle cx="119.43" cy="347.2" r="1.7"/><circle cx="121.45" cy="346.41" r="1.7"/><circle cx="123.47" cy="345.63" r="1.7"/><circle cx="125.5" cy="344.85" r="1.7"/><circle cx="127.53" cy="344.06" r="1.7"/><circle cx="129.55" cy="343.28" r="1.7"/><circle cx="131.58" cy="342.5" r="1.7"/><circle cx="133.6" cy="341.71" r="1.7"/><circle cx="135.62" cy="340.93" r="1.7"/><circle cx="137.65" cy="340.15" r="1.7"/><circle cx="139.68" cy="339.36" r="1.7"/><circle cx="141.7" cy="338.58" r="1.7"/><circle cx="143.72" cy="337.8" r="1.7"/><circle cx="145.75" cy="337.02" r="1.7"/><circle cx="147.78" cy="336.23" r="1.7"/><circle cx="149.8" cy="335.45" r="1.7"/><circle cx="151.83" cy="334.67" r="1.7"/><circle cx="153.85" cy="333.88" r="1.7"/><circle cx="155.88" cy="333.1" r="1.7"/><circle cx="157.9" cy="332.32" r="1.7"/><circle cx="159.93" cy="331.53" r="1.7"/><circle cx="161.95" cy="330.75" r="1.7"/><circle cx="163.97" cy="329.97" r="1.7"/><circle cx="166" cy="329.19" r="1.7"/><circle cx="168.03" cy="328.4" r="1.7"/><circle cx="170.05" cy="327.62" r="1.7"/><circle cx="172.08" cy="326.84" r="1.7"/><circle cx="174.1" cy="326.05" r="1.7"/><circle cx="176.12" cy="325.27" r="1.7"/><circle cx="178.15" cy="324.49" r="1.7"/><circle cx="180.18" cy="323.7" r="1.7"/><circle cx="182.2" cy="322.92" r="1.7"/><circle cx="184.22" cy="322.14" r="1.7"/><circle cx="186.25" cy="321.36" r="1.7"/><circle cx="188.28" cy="320.57" r="1.7"/><circle cx="190.3" cy="319.79" r="1.7"/><circle cx="192.33" cy="319.01" r="1.7"/><circle cx="194.35" cy="318.22" r="1.7"/><circle cx="196.38" cy="317.44" r="1.7"/><circle cx="198.4" cy="316.66" r="1.7"/><circle cx="200.43" cy="315.87" r="1.7"/><circle cx="202.45" cy="315.09" r="1.7"/><circle cx="204.47" cy="314.31" r="1.7"/><circle cx="206.5" cy="313.52" r="1.7"/><circle cx="208.53" cy="312.74" r="1.7"/><circle cx="210.55" cy="311.96" r="1.7"/><circle cx="212.58" cy="311.18" r="1.7"/><circle cx="214.6" cy="310.39" r="1.7"/><circle cx="216.62" cy="309.61" r="1.7"/><circle cx="218.65" cy="308.83" r="1.7"/><circle cx="220.68" cy="308.04" r="1.7"/><circle cx="222.7" cy="307.26" r="1.7"/><circle cx="224.73" cy="306.48" r="1.7"/><circle cx="226.75" cy="305.69" r="1.7"/><circle cx="228.78" cy="304.91" r="1.7"/><circle cx="230.8" cy="304.13" r="1.7"/><circle cx="232.82" cy="303.35" r="1.7"/><circle cx="234.85" cy="302.56" r="1.7"/><circle cx="236.88" cy="301.78" r="1.7"/><circle cx="238.9" cy="301" r="1.7"/><circle cx="240.93" cy="300.21" r="1.7"/><circle cx="242.95" cy="299.43" r="1.7"/><circle cx="244.98" cy="298.65" r="1.7"/><circle cx="247" cy="297.86" r="1.7"/><circle cx="249.03" cy="297.08" r="1.7"/><circle cx="251.05" cy="296.3" r="1.7"/><circle cx="253.07" cy="295.52" r="1.7"/><circle cx="255.1" cy="294.73" r="1.7"/><circle cx="257.12" cy="293.95" r="1.7"/><circle cx="259.15" cy="293.17" r="1.7"/></g>
<text x="76.3" y="217.8" font-family="'Liberation Serif',serif" font-weight="bold" font-size="9" fill="#f09a3c">InS<tspan font-size="5.5" dy="1.8">0.3</tspan><tspan dy="-1.8">Se</tspan><tspan font-size="5.5" dy="1.8">0.7</tspan></text>
<text x="80" y="311.8" font-family="'Liberation Serif',serif" font-weight="bold" font-size="9.8" letter-spacing="0.6" fill="#3fa845">WS<tspan font-size="5.4" dy="2">2</tspan></text>
<text x="182" y="273.6" font-family="'Liberation Sans',Arial,sans-serif" font-size="9.2" fill="#333"><tspan font-style="italic">R</tspan> ~1600 Ω</text>
<text x="182.5" y="348.1" font-family="'Liberation Sans',Arial,sans-serif" font-size="9.2" fill="#333"><tspan font-style="italic">R</tspan> ~750 Ω</text>
<text x="157.9" y="307" text-anchor="middle" font-family="'Liberation Sans',Arial,sans-serif" font-size="8.6" fill="#333">V (mV)</text>
<text x="158.8" y="393.4" text-anchor="middle" font-family="'Liberation Sans',Arial,sans-serif" font-size="8.6" fill="#333"><tspan font-style="italic">V</tspan> (V)</text>
<text transform="translate(30.3,246) rotate(-90)" text-anchor="middle" font-family="'Liberation Sans',Arial,sans-serif" font-size="10" fill="#333"><tspan font-style="italic">I</tspan> (uA)</text>
<text transform="translate(30.3,331) rotate(-90)" text-anchor="middle" font-family="'Liberation Sans',Arial,sans-serif" font-size="10" fill="#333"><tspan font-style="italic">I</tspan> (uA)</text>
</g>
<text x="8.4" y="209.5" font-family="'Liberation Serif',serif" font-size="22" fill="#111">(c)</text>
<g id="pd">
<rect x="317.5" y="203.5" width="212.0" height="169.39999999999998" fill="#fff" stroke="#3c3c3c" stroke-width="1.1"/>
<text x="311.5" y="351.5" text-anchor="end" font-family="'Liberation Sans',Arial,sans-serif" font-size="10.3" fill="#3a3a3a">-0.05</text>
<text x="311.5" y="321.3" text-anchor="end" font-family="'Liberation Sans',Arial,sans-serif" font-size="10.3" fill="#3a3a3a">0.00</text>
<text x="311.5" y="291.1" text-anchor="end" font-family="'Liberation Sans',Arial,sans-serif" font-size="10.3" fill="#3a3a3a">0.05</text>
<text x="311.5" y="260.9" text-anchor="end" font-family="'Liberation Sans',Arial,sans-serif" font-size="10.3" fill="#3a3a3a">0.10</text>
<text x="311.5" y="230.7" text-anchor="end" font-family="'Liberation Sans',Arial,sans-serif" font-size="10.3" fill="#3a3a3a">0.15</text>
<text x="322.6" y="386.9" text-anchor="middle" font-family="'Liberation Sans',Arial,sans-serif" font-size="10" fill="#3a3a3a">-1.0</text>
<text x="372.9" y="386.9" text-anchor="middle" font-family="'Liberation Sans',Arial,sans-serif" font-size="10" fill="#3a3a3a">-0.5</text>
<text x="423.2" y="386.9" text-anchor="middle" font-family="'Liberation Sans',Arial,sans-serif" font-size="10" fill="#3a3a3a">0.0</text>
<text x="473.5" y="386.9" text-anchor="middle" font-family="'Liberation Sans',Arial,sans-serif" font-size="10" fill="#3a3a3a">0.5</text>
<text x="523.8" y="386.9" text-anchor="middle" font-family="'Liberation Sans',Arial,sans-serif" font-size="10" fill="#3a3a3a">1.0</text>
<path d="M317.5,363.2h-1.8M317.5,348.1h-3.2M317.5,333h-1.8M317.5,317.9h-3.2M317.5,302.8h-1.8M317.5,287.7h-3.2M317.5,272.6h-1.8M317.5,257.5h-3.2M317.5,242.4h-1.8M317.5,227.3h-3.2M317.5,212.2h-1.8M322.6,372.9v3.2M347.75,372.9v1.8M372.9,372.9v3.2M398.05,372.9v1.8M423.2,372.9v3.2M448.35,372.9v1.8M473.5,372.9v3.2M498.65,372.9v1.8M523.8,372.9v3.2" stroke="#3c3c3c" stroke-width="0.8" fill="none"/>
<clipPath id="clipD"><rect x="317.5" y="200.5" width="212.0" height="172.39999999999998"/></clipPath>
<polyline points="322.6,355.36 323.1,353.1 323.61,351.98 324.11,353.45 324.61,353.97 325.12,351.87 325.62,350.74 326.12,349.64 326.62,352.43 327.13,352.56 327.63,350.2 328.13,350.78 328.64,349.76 329.14,350.75 329.64,352.32 330.14,352.59 330.65,348.88 331.15,352.25 331.65,352.53 332.16,352.58 332.66,350.63 333.16,350.26 333.67,350.69 334.17,350.24 334.67,349.82 335.18,349.34 335.68,348.86 336.18,349.95 336.68,352.32 337.19,348.84 337.69,351.06 338.19,348.88 338.7,349.87 339.2,347.34 339.7,347.75 340.2,346.05 340.71,341.86 341.21,346 341.71,344.91 342.22,347.8 342.72,346.66 343.22,345.6 343.73,346.61 344.23,345.96 344.73,346.12 345.24,347.25 345.74,344.93 346.24,346.37 346.74,342.73 347.25,345.62 347.75,344.12 348.25,345.13 348.76,344.14 349.26,346.37 349.76,344.54 350.26,346.07 350.77,344.25 351.27,344.83 351.77,345.04 352.28,345.66 352.78,343.09 353.28,342.85 353.79,340.81 354.29,342.93 354.79,341.45 355.29,341.35 355.8,341.57 356.3,341.66 356.8,341.68 357.31,342.59 357.81,342.93 358.31,341.84 358.82,340.18 359.32,338.54 359.82,338.75 360.32,338.25 360.83,338.31 361.33,338.29 361.83,338.99 362.34,338.44 362.84,337.47 363.34,340.46 363.85,341.22 364.35,338.05 364.85,340.27 365.36,339.23 365.86,339.09 366.36,341.26 366.86,336.3 367.37,336.72 367.87,338.4 368.37,337.43 368.88,338.09 369.38,339.34 369.88,338.38 370.38,337.78 370.89,336.78 371.39,337.13 371.89,337.63 372.4,335.52 372.9,337.62 373.4,335.04 373.91,334.03 374.41,335.28 374.91,336.8 375.41,335.46 375.92,333.97 376.42,333.71 376.92,332.62 377.43,336.11 377.93,335.04 378.43,334.35 378.94,335.38 379.44,338.06 379.94,333.81 380.44,331.62 380.95,333 381.45,335.23 381.95,334.48 382.46,333.7 382.96,330.97 383.46,333.57 383.97,334.46 384.47,332.85 384.97,335.03 385.48,332.52 385.98,335.52 386.48,334.86 386.98,332.81 387.49,331.32 387.99,331.69 388.49,331.6 389,333.88 389.5,332.2 390,331.94 390.5,331.83 391.01,330.46 391.51,331.67 392.01,330.23 392.52,331.02 393.02,331.32 393.52,330.41 394.03,329.62 394.53,328.68 395.03,330.03 395.53,329.5 396.04,330.86 396.54,327.19 397.04,327.62 397.55,330.03 398.05,330.78 398.55,332.07 399.06,330.5 399.56,330.53 400.06,327.92 400.56,330.12 401.07,331.05 401.57,332.74 402.07,327.43 402.58,328.62 403.08,330.66 403.58,328.26 404.09,330.5 404.59,324.07 405.09,327.1 405.59,327.76 406.1,328.57 406.6,330.78 407.1,327.81 407.61,329.09 408.11,325.77 408.61,328.66 409.12,326.59 409.62,323.53 410.12,322.81 410.62,326.38 411.13,326.97 411.63,324.15 412.13,324.46 412.64,327.04 413.14,326.82 413.64,326.85 414.15,327.38 414.65,326.52 415.15,323.79 415.65,324.22 416.16,322.26 416.66,324.85 417.16,324.9 417.67,326.09 418.17,325.19 418.67,326.92 419.18,327.69 419.68,324.62 420.18,323.6 420.69,324.12 421.19,323.07 421.69,323.89 422.19,324.5 422.7,322.86 423.2,322.9 423.7,323.41 424.21,323.88 424.71,323.49 425.21,321.62 425.71,321.5 426.22,322.37 426.72,319.98 427.22,321.49 427.73,320.8 428.23,319.7 428.73,321.93 429.24,323.02 429.74,319.25 430.24,320.88 430.75,318.28 431.25,319.62 431.75,319.01 432.25,319.66 432.76,323.63 433.26,320.4 433.76,322.37 434.27,322.53 434.77,322.01 435.27,320.2 435.77,319.65 436.28,319.03 436.78,321.96 437.28,320.21 437.79,322.19 438.29,319.15 438.79,318.2 439.3,319.94 439.8,318.68 440.3,318.66 440.81,317.55 441.31,319.6 441.81,319.21 442.31,318.62 442.82,314.87 443.32,315.16 443.82,316.22 444.33,315.45 444.83,315.43 445.33,315.34 445.83,316.03 446.34,316.46 446.84,317.94 447.34,317.44 447.85,314.71 448.35,316.18 448.85,316.69 449.36,316.83 449.86,316.2 450.36,315.54 450.86,316.55 451.37,315.33 451.87,315.23 452.37,316.56 452.88,316.76 453.38,317.21 453.88,317.44 454.39,315.01 454.89,319.03 455.39,316.11 455.89,316.11 456.4,315.56 456.9,314.02 457.4,312.09 457.91,312.87 458.41,312.72 458.91,313.06 459.42,312.34 459.92,311.04 460.42,312.8 460.92,313.86 461.43,314.08 461.93,313.85 462.43,314.06 462.94,310.66 463.44,311.28 463.94,311.69 464.45,309.25 464.95,311.74 465.45,309.9 465.95,309.94 466.46,313.15 466.96,313.49 467.46,313.05 467.97,311.02 468.47,310.72 468.97,313.95 469.48,310.92 469.98,312.43 470.48,311.89 470.99,311.48 471.49,310.59 471.99,311.94 472.49,310.47 473,310.46 473.5,308.07 474,305.93 474.51,305.01 475.01,308.76 475.51,310.28 476.01,308.25 476.52,308.43 477.02,304.13 477.52,305.27 478.03,306.28 478.53,303.61 479.03,303.69 479.54,306.18 480.04,304.72 480.54,304.43 481.04,304.28 481.55,304.35 482.05,305.12 482.55,304.53 483.06,305.46 483.56,305.65 484.06,302.26 484.57,303.32 485.07,302.78 485.57,304.96 486.07,302.84 486.58,301.39 487.08,303.98 487.58,300.95 488.09,302.86 488.59,301.86 489.09,302.44 489.6,301.76 490.1,300.11 490.6,301.58 491.11,298.4 491.61,300.63 492.11,300.07 492.61,297.33 493.12,299.05 493.62,297.8 494.12,295.97 494.63,295.51 495.13,299.31 495.63,296.45 496.13,294.69 496.64,295.45 497.14,297.05 497.64,297.18 498.15,296.38 498.65,297.04 499.15,295.52 499.66,295.12 500.16,294.9 500.66,293.19 501.16,295.09 501.67,296.84 502.17,293.89 502.67,296.76 503.18,296.03 503.68,295.53 504.18,295.52 504.69,295.87 505.19,294.22 505.69,290.38 506.19,293.17 506.7,291.89 507.2,289.73 507.7,289.76 508.21,289.4 508.71,289.02 509.21,292.39 509.72,290.74 510.22,289.15 510.72,288.14 511.22,286.41 511.73,286.63 512.23,286.65 512.73,285.44 513.24,284.82 513.74,283.44 514.24,282.27 514.75,283.1 515.25,283.23 515.75,282.79 516.25,279.85 516.76,279.11 517.26,279 517.76,277.45 518.27,275.83 518.77,274.09 519.27,271.61 519.78,269.35 520.28,265.49 520.78,262.05 521.28,257.76 521.79,253.37 522.29,244.7 522.79,237.41 523.3,228.52 523.8,210.57" fill="none" stroke="#1f77b4" stroke-width="0.85"/>
<g stroke="#2278b8" stroke-width="0.65" fill="#e8f2fa" fill-opacity="0.55"><circle cx="322.6" cy="355.36" r="1.55"/><circle cx="323.1" cy="353.1" r="1.55"/><circle cx="323.61" cy="351.98" r="1.55"/><circle cx="324.11" cy="353.45" r="1.55"/><circle cx="324.61" cy="353.97" r="1.55"/><circle cx="325.12" cy="351.87" r="1.55"/><circle cx="325.62" cy="350.74" r="1.55"/><circle cx="326.12" cy="349.64" r="1.55"/><circle cx="326.62" cy="352.43" r="1.55"/><circle cx="327.13" cy="352.56" r="1.55"/><circle cx="327.63" cy="350.2" r="1.55"/><circle cx="328.13" cy="350.78" r="1.55"/><circle cx="328.64" cy="349.76" r="1.55"/><circle cx="329.14" cy="350.75" r="1.55"/><circle cx="329.64" cy="352.32" r="1.55"/><circle cx="330.14" cy="352.59" r="1.55"/><circle cx="330.65" cy="348.88" r="1.55"/><circle cx="331.15" cy="352.25" r="1.55"/><circle cx="331.65" cy="352.53" r="1.55"/><circle cx="332.16" cy="352.58" r="1.55"/><circle cx="332.66" cy="350.63" r="1.55"/><circle cx="333.16" cy="350.26" r="1.55"/><circle cx="333.67" cy="350.69" r="1.55"/><circle cx="334.17" cy="350.24" r="1.55"/><circle cx="334.67" cy="349.82" r="1.55"/><circle cx="335.18" cy="349.34" r="1.55"/><circle cx="335.68" cy="348.86" r="1.55"/><circle cx="336.18" cy="349.95" r="1.55"/><circle cx="336.68" cy="352.32" r="1.55"/><circle cx="337.19" cy="348.84" r="1.55"/><circle cx="337.69" cy="351.06" r="1.55"/><circle cx="338.19" cy="348.88" r="1.55"/><circle cx="338.7" cy="349.87" r="1.55"/><circle cx="339.2" cy="347.34" r="1.55"/><circle cx="339.7" cy="347.75" r="1.55"/><circle cx="340.2" cy="346.05" r="1.55"/><circle cx="340.71" cy="341.86" r="1.55"/><circle cx="341.21" cy="346" r="1.55"/><circle cx="341.71" cy="344.91" r="1.55"/><circle cx="342.22" cy="347.8" r="1.55"/><circle cx="342.72" cy="346.66" r="1.55"/><circle cx="343.22" cy="345.6" r="1.55"/><circle cx="343.73" cy="346.61" r="1.55"/><circle cx="344.23" cy="345.96" r="1.55"/><circle cx="344.73" cy="346.12" r="1.55"/><circle cx="345.24" cy="347.25" r="1.55"/><circle cx="345.74" cy="344.93" r="1.55"/><circle cx="346.24" cy="346.37" r="1.55"/><circle cx="346.74" cy="342.73" r="1.55"/><circle cx="347.25" cy="345.62" r="1.55"/><circle cx="347.75" cy="344.12" r="1.55"/><circle cx="348.25" cy="345.13" r="1.55"/><circle cx="348.76" cy="344.14" r="1.55"/><circle cx="349.26" cy="346.37" r="1.55"/><circle cx="349.76" cy="344.54" r="1.55"/><circle cx="350.26" cy="346.07" r="1.55"/><circle cx="350.77" cy="344.25" r="1.55"/><circle cx="351.27" cy="344.83" r="1.55"/><circle cx="351.77" cy="345.04" r="1.55"/><circle cx="352.28" cy="345.66" r="1.55"/><circle cx="352.78" cy="343.09" r="1.55"/><circle cx="353.28" cy="342.85" r="1.55"/><circle cx="353.79" cy="340.81" r="1.55"/><circle cx="354.29" cy="342.93" r="1.55"/><circle cx="354.79" cy="341.45" r="1.55"/><circle cx="355.29" cy="341.35" r="1.55"/><circle cx="355.8" cy="341.57" r="1.55"/><circle cx="356.3" cy="341.66" r="1.55"/><circle cx="356.8" cy="341.68" r="1.55"/><circle cx="357.31" cy="342.59" r="1.55"/><circle cx="357.81" cy="342.93" r="1.55"/><circle cx="358.31" cy="341.84" r="1.55"/><circle cx="358.82" cy="340.18" r="1.55"/><circle cx="359.32" cy="338.54" r="1.55"/><circle cx="359.82" cy="338.75" r="1.55"/><circle cx="360.32" cy="338.25" r="1.55"/><circle cx="360.83" cy="338.31" r="1.55"/><circle cx="361.33" cy="338.29" r="1.55"/><circle cx="361.83" cy="338.99" r="1.55"/><circle cx="362.34" cy="338.44" r="1.55"/><circle cx="362.84" cy="337.47" r="1.55"/><circle cx="363.34" cy="340.46" r="1.55"/><circle cx="363.85" cy="341.22" r="1.55"/><circle cx="364.35" cy="338.05" r="1.55"/><circle cx="364.85" cy="340.27" r="1.55"/><circle cx="365.36" cy="339.23" r="1.55"/><circle cx="365.86" cy="339.09" r="1.55"/><circle cx="366.36" cy="341.26" r="1.55"/><circle cx="366.86" cy="336.3" r="1.55"/><circle cx="367.37" cy="336.72" r="1.55"/><circle cx="367.87" cy="338.4" r="1.55"/><circle cx="368.37" cy="337.43" r="1.55"/><circle cx="368.88" cy="338.09" r="1.55"/><circle cx="369.38" cy="339.34" r="1.55"/><circle cx="369.88" cy="338.38" r="1.55"/><circle cx="370.38" cy="337.78" r="1.55"/><circle cx="370.89" cy="336.78" r="1.55"/><circle cx="371.39" cy="337.13" r="1.55"/><circle cx="371.89" cy="337.63" r="1.55"/><circle cx="372.4" cy="335.52" r="1.55"/><circle cx="372.9" cy="337.62" r="1.55"/><circle cx="373.4" cy="335.04" r="1.55"/><circle cx="373.91" cy="334.03" r="1.55"/><circle cx="374.41" cy="335.28" r="1.55"/><circle cx="374.91" cy="336.8" r="1.55"/><circle cx="375.41" cy="335.46" r="1.55"/><circle cx="375.92" cy="333.97" r="1.55"/><circle cx="376.42" cy="333.71" r="1.55"/><circle cx="376.92" cy="332.62" r="1.55"/><circle cx="377.43" cy="336.11" r="1.55"/><circle cx="377.93" cy="335.04" r="1.55"/><circle cx="378.43" cy="334.35" r="1.55"/><circle cx="378.94" cy="335.38" r="1.55"/><circle cx="379.44" cy="338.06" r="1.55"/><circle cx="379.94" cy="333.81" r="1.55"/><circle cx="380.44" cy="331.62" r="1.55"/><circle cx="380.95" cy="333" r="1.55"/><circle cx="381.45" cy="335.23" r="1.55"/><circle cx="381.95" cy="334.48" r="1.55"/><circle cx="382.46" cy="333.7" r="1.55"/><circle cx="382.96" cy="330.97" r="1.55"/><circle cx="383.46" cy="333.57" r="1.55"/><circle cx="383.97" cy="334.46" r="1.55"/><circle cx="384.47" cy="332.85" r="1.55"/><circle cx="384.97" cy="335.03" r="1.55"/><circle cx="385.48" cy="332.52" r="1.55"/><circle cx="385.98" cy="335.52" r="1.55"/><circle cx="386.48" cy="334.86" r="1.55"/><circle cx="386.98" cy="332.81" r="1.55"/><circle cx="387.49" cy="331.32" r="1.55"/><circle cx="387.99" cy="331.69" r="1.55"/><circle cx="388.49" cy="331.6" r="1.55"/><circle cx="389" cy="333.88" r="1.55"/><circle cx="389.5" cy="332.2" r="1.55"/><circle cx="390" cy="331.94" r="1.55"/><circle cx="390.5" cy="331.83" r="1.55"/><circle cx="391.01" cy="330.46" r="1.55"/><circle cx="391.51" cy="331.67" r="1.55"/><circle cx="392.01" cy="330.23" r="1.55"/><circle cx="392.52" cy="331.02" r="1.55"/><circle cx="393.02" cy="331.32" r="1.55"/><circle cx="393.52" cy="330.41" r="1.55"/><circle cx="394.03" cy="329.62" r="1.55"/><circle cx="394.53" cy="328.68" r="1.55"/><circle cx="395.03" cy="330.03" r="1.55"/><circle cx="395.53" cy="329.5" r="1.55"/><circle cx="396.04" cy="330.86" r="1.55"/><circle cx="396.54" cy="327.19" r="1.55"/><circle cx="397.04" cy="327.62" r="1.55"/><circle cx="397.55" cy="330.03" r="1.55"/><circle cx="398.05" cy="330.78" r="1.55"/><circle cx="398.55" cy="332.07" r="1.55"/><circle cx="399.06" cy="330.5" r="1.55"/><circle cx="399.56" cy="330.53" r="1.55"/><circle cx="400.06" cy="327.92" r="1.55"/><circle cx="400.56" cy="330.12" r="1.55"/><circle cx="401.07" cy="331.05" r="1.55"/><circle cx="401.57" cy="332.74" r="1.55"/><circle cx="402.07" cy="327.43" r="1.55"/><circle cx="402.58" cy="328.62" r="1.55"/><circle cx="403.08" cy="330.66" r="1.55"/><circle cx="403.58" cy="328.26" r="1.55"/><circle cx="404.09" cy="330.5" r="1.55"/><circle cx="404.59" cy="324.07" r="1.55"/><circle cx="405.09" cy="327.1" r="1.55"/><circle cx="405.59" cy="327.76" r="1.55"/><circle cx="406.1" cy="328.57" r="1.55"/><circle cx="406.6" cy="330.78" r="1.55"/><circle cx="407.1" cy="327.81" r="1.55"/><circle cx="407.61" cy="329.09" r="1.55"/><circle cx="408.11" cy="325.77" r="1.55"/><circle cx="408.61" cy="328.66" r="1.55"/><circle cx="409.12" cy="326.59" r="1.55"/><circle cx="409.62" cy="323.53" r="1.55"/><circle cx="410.12" cy="322.81" r="1.55"/><circle cx="410.62" cy="326.38" r="1.55"/><circle cx="411.13" cy="326.97" r="1.55"/><circle cx="411.63" cy="324.15" r="1.55"/><circle cx="412.13" cy="324.46" r="1.55"/><circle cx="412.64" cy="327.04" r="1.55"/><circle cx="413.14" cy="326.82" r="1.55"/><circle cx="413.64" cy="326.85" r="1.55"/><circle cx="414.15" cy="327.38" r="1.55"/><circle cx="414.65" cy="326.52" r="1.55"/><circle cx="415.15" cy="323.79" r="1.55"/><circle cx="415.65" cy="324.22" r="1.55"/><circle cx="416.16" cy="322.26" r="1.55"/><circle cx="416.66" cy="324.85" r="1.55"/><circle cx="417.16" cy="324.9" r="1.55"/><circle cx="417.67" cy="326.09" r="1.55"/><circle cx="418.17" cy="325.19" r="1.55"/><circle cx="418.67" cy="326.92" r="1.55"/><circle cx="419.18" cy="327.69" r="1.55"/><circle cx="419.68" cy="324.62" r="1.55"/><circle cx="420.18" cy="323.6" r="1.55"/><circle cx="420.69" cy="324.12" r="1.55"/><circle cx="421.19" cy="323.07" r="1.55"/><circle cx="421.69" cy="323.89" r="1.55"/><circle cx="422.19" cy="324.5" r="1.55"/><circle cx="422.7" cy="322.86" r="1.55"/><circle cx="423.2" cy="322.9" r="1.55"/><circle cx="423.7" cy="323.41" r="1.55"/><circle cx="424.21" cy="323.88" r="1.55"/><circle cx="424.71" cy="323.49" r="1.55"/><circle cx="425.21" cy="321.62" r="1.55"/><circle cx="425.71" cy="321.5" r="1.55"/><circle cx="426.22" cy="322.37" r="1.55"/><circle cx="426.72" cy="319.98" r="1.55"/><circle cx="427.22" cy="321.49" r="1.55"/><circle cx="427.73" cy="320.8" r="1.55"/><circle cx="428.23" cy="319.7" r="1.55"/><circle cx="428.73" cy="321.93" r="1.55"/><circle cx="429.24" cy="323.02" r="1.55"/><circle cx="429.74" cy="319.25" r="1.55"/><circle cx="430.24" cy="320.88" r="1.55"/><circle cx="430.75" cy="318.28" r="1.55"/><circle cx="431.25" cy="319.62" r="1.55"/><circle cx="431.75" cy="319.01" r="1.55"/><circle cx="432.25" cy="319.66" r="1.55"/><circle cx="432.76" cy="323.63" r="1.55"/><circle cx="433.26" cy="320.4" r="1.55"/><circle cx="433.76" cy="322.37" r="1.55"/><circle cx="434.27" cy="322.53" r="1.55"/><circle cx="434.77" cy="322.01" r="1.55"/><circle cx="435.27" cy="320.2" r="1.55"/><circle cx="435.77" cy="319.65" r="1.55"/><circle cx="436.28" cy="319.03" r="1.55"/><circle cx="436.78" cy="321.96" r="1.55"/><circle cx="437.28" cy="320.21" r="1.55"/><circle cx="437.79" cy="322.19" r="1.55"/><circle cx="438.29" cy="319.15" r="1.55"/><circle cx="438.79" cy="318.2" r="1.55"/><circle cx="439.3" cy="319.94" r="1.55"/><circle cx="439.8" cy="318.68" r="1.55"/><circle cx="440.3" cy="318.66" r="1.55"/><circle cx="440.81" cy="317.55" r="1.55"/><circle cx="441.31" cy="319.6" r="1.55"/><circle cx="441.81" cy="319.21" r="1.55"/><circle cx="442.31" cy="318.62" r="1.55"/><circle cx="442.82" cy="314.87" r="1.55"/><circle cx="443.32" cy="315.16" r="1.55"/><circle cx="443.82" cy="316.22" r="1.55"/><circle cx="444.33" cy="315.45" r="1.55"/><circle cx="444.83" cy="315.43" r="1.55"/><circle cx="445.33" cy="315.34" r="1.55"/><circle cx="445.83" cy="316.03" r="1.55"/><circle cx="446.34" cy="316.46" r="1.55"/><circle cx="446.84" cy="317.94" r="1.55"/><circle cx="447.34" cy="317.44" r="1.55"/><circle cx="447.85" cy="314.71" r="1.55"/><circle cx="448.35" cy="316.18" r="1.55"/><circle cx="448.85" cy="316.69" r="1.55"/><circle cx="449.36" cy="316.83" r="1.55"/><circle cx="449.86" cy="316.2" r="1.55"/><circle cx="450.36" cy="315.54" r="1.55"/><circle cx="450.86" cy="316.55" r="1.55"/><circle cx="451.37" cy="315.33" r="1.55"/><circle cx="451.87" cy="315.23" r="1.55"/><circle cx="452.37" cy="316.56" r="1.55"/><circle cx="452.88" cy="316.76" r="1.55"/><circle cx="453.38" cy="317.21" r="1.55"/><circle cx="453.88" cy="317.44" r="1.55"/><circle cx="454.39" cy="315.01" r="1.55"/><circle cx="454.89" cy="319.03" r="1.55"/><circle cx="455.39" cy="316.11" r="1.55"/><circle cx="455.89" cy="316.11" r="1.55"/><circle cx="456.4" cy="315.56" r="1.55"/><circle cx="456.9" cy="314.02" r="1.55"/><circle cx="457.4" cy="312.09" r="1.55"/><circle cx="457.91" cy="312.87" r="1.55"/><circle cx="458.41" cy="312.72" r="1.55"/><circle cx="458.91" cy="313.06" r="1.55"/><circle cx="459.42" cy="312.34" r="1.55"/><circle cx="459.92" cy="311.04" r="1.55"/><circle cx="460.42" cy="312.8" r="1.55"/><circle cx="460.92" cy="313.86" r="1.55"/><circle cx="461.43" cy="314.08" r="1.55"/><circle cx="461.93" cy="313.85" r="1.55"/><circle cx="462.43" cy="314.06" r="1.55"/><circle cx="462.94" cy="310.66" r="1.55"/><circle cx="463.44" cy="311.28" r="1.55"/><circle cx="463.94" cy="311.69" r="1.55"/><circle cx="464.45" cy="309.25" r="1.55"/><circle cx="464.95" cy="311.74" r="1.55"/><circle cx="465.45" cy="309.9" r="1.55"/><circle cx="465.95" cy="309.94" r="1.55"/><circle cx="466.46" cy="313.15" r="1.55"/><circle cx="466.96" cy="313.49" r="1.55"/><circle cx="467.46" cy="313.05" r="1.55"/><circle cx="467.97" cy="311.02" r="1.55"/><circle cx="468.47" cy="310.72" r="1.55"/><circle cx="468.97" cy="313.95" r="1.55"/><circle cx="469.48" cy="310.92" r="1.55"/><circle cx="469.98" cy="312.43" r="1.55"/><circle cx="470.48" cy="311.89" r="1.55"/><circle cx="470.99" cy="311.48" r="1.55"/><circle cx="471.49" cy="310.59" r="1.55"/><circle cx="471.99" cy="311.94" r="1.55"/><circle cx="472.49" cy="310.47" r="1.55"/><circle cx="473" cy="310.46" r="1.55"/><circle cx="473.5" cy="308.07" r="1.55"/><circle cx="474" cy="305.93" r="1.55"/><circle cx="474.51" cy="305.01" r="1.55"/><circle cx="475.01" cy="308.76" r="1.55"/><circle cx="475.51" cy="310.28" r="1.55"/><circle cx="476.01" cy="308.25" r="1.55"/><circle cx="476.52" cy="308.43" r="1.55"/><circle cx="477.02" cy="304.13" r="1.55"/><circle cx="477.52" cy="305.27" r="1.55"/><circle cx="478.03" cy="306.28" r="1.55"/><circle cx="478.53" cy="303.61" r="1.55"/><circle cx="479.03" cy="303.69" r="1.55"/><circle cx="479.54" cy="306.18" r="1.55"/><circle cx="480.04" cy="304.72" r="1.55"/><circle cx="480.54" cy="304.43" r="1.55"/><circle cx="481.04" cy="304.28" r="1.55"/><circle cx="481.55" cy="304.35" r="1.55"/><circle cx="482.05" cy="305.12" r="1.55"/><circle cx="482.55" cy="304.53" r="1.55"/><circle cx="483.06" cy="305.46" r="1.55"/><circle cx="483.56" cy="305.65" r="1.55"/><circle cx="484.06" cy="302.26" r="1.55"/><circle cx="484.57" cy="303.32" r="1.55"/><circle cx="485.07" cy="302.78" r="1.55"/><circle cx="485.57" cy="304.96" r="1.55"/><circle cx="486.07" cy="302.84" r="1.55"/><circle cx="486.58" cy="301.39" r="1.55"/><circle cx="487.08" cy="303.98" r="1.55"/><circle cx="487.58" cy="300.95" r="1.55"/><circle cx="488.09" cy="302.86" r="1.55"/><circle cx="488.59" cy="301.86" r="1.55"/><circle cx="489.09" cy="302.44" r="1.55"/><circle cx="489.6" cy="301.76" r="1.55"/><circle cx="490.1" cy="300.11" r="1.55"/><circle cx="490.6" cy="301.58" r="1.55"/><circle cx="491.11" cy="298.4" r="1.55"/><circle cx="491.61" cy="300.63" r="1.55"/><circle cx="492.11" cy="300.07" r="1.55"/><circle cx="492.61" cy="297.33" r="1.55"/><circle cx="493.12" cy="299.05" r="1.55"/><circle cx="493.62" cy="297.8" r="1.55"/><circle cx="494.12" cy="295.97" r="1.55"/><circle cx="494.63" cy="295.51" r="1.55"/><circle cx="495.13" cy="299.31" r="1.55"/><circle cx="495.63" cy="296.45" r="1.55"/><circle cx="496.13" cy="294.69" r="1.55"/><circle cx="496.64" cy="295.45" r="1.55"/><circle cx="497.14" cy="297.05" r="1.55"/><circle cx="497.64" cy="297.18" r="1.55"/><circle cx="498.15" cy="296.38" r="1.55"/><circle cx="498.65" cy="297.04" r="1.55"/><circle cx="499.15" cy="295.52" r="1.55"/><circle cx="499.66" cy="295.12" r="1.55"/><circle cx="500.16" cy="294.9" r="1.55"/><circle cx="500.66" cy="293.19" r="1.55"/><circle cx="501.16" cy="295.09" r="1.55"/><circle cx="501.67" cy="296.84" r="1.55"/><circle cx="502.17" cy="293.89" r="1.55"/><circle cx="502.67" cy="296.76" r="1.55"/><circle cx="503.18" cy="296.03" r="1.55"/><circle cx="503.68" cy="295.53" r="1.55"/><circle cx="504.18" cy="295.52" r="1.55"/><circle cx="504.69" cy="295.87" r="1.55"/><circle cx="505.19" cy="294.22" r="1.55"/><circle cx="505.69" cy="290.38" r="1.55"/><circle cx="506.19" cy="293.17" r="1.55"/><circle cx="506.7" cy="291.89" r="1.55"/><circle cx="507.2" cy="289.73" r="1.55"/><circle cx="507.7" cy="289.76" r="1.55"/><circle cx="508.21" cy="289.4" r="1.55"/><circle cx="508.71" cy="289.02" r="1.55"/><circle cx="509.21" cy="292.39" r="1.55"/><circle cx="509.72" cy="290.74" r="1.55"/><circle cx="510.22" cy="289.15" r="1.55"/><circle cx="510.72" cy="288.14" r="1.55"/><circle cx="511.22" cy="286.41" r="1.55"/><circle cx="511.73" cy="286.63" r="1.55"/><circle cx="512.23" cy="286.65" r="1.55"/><circle cx="512.73" cy="285.44" r="1.55"/><circle cx="513.24" cy="284.82" r="1.55"/><circle cx="513.74" cy="283.44" r="1.55"/><circle cx="514.24" cy="282.27" r="1.55"/><circle cx="514.75" cy="283.1" r="1.55"/><circle cx="515.25" cy="283.23" r="1.55"/><circle cx="515.75" cy="282.79" r="1.55"/><circle cx="516.25" cy="279.85" r="1.55"/><circle cx="516.76" cy="279.11" r="1.55"/><circle cx="517.26" cy="279" r="1.55"/><circle cx="517.76" cy="277.45" r="1.55"/><circle cx="518.27" cy="275.83" r="1.55"/><circle cx="518.77" cy="274.09" r="1.55"/><circle cx="519.27" cy="271.61" r="1.55"/><circle cx="519.78" cy="269.35" r="1.55"/><circle cx="520.28" cy="265.49" r="1.55"/><circle cx="520.78" cy="262.05" r="1.55"/><circle cx="521.28" cy="257.76" r="1.55"/><circle cx="521.79" cy="253.37" r="1.55"/><circle cx="522.29" cy="244.7" r="1.55"/><circle cx="522.79" cy="237.41" r="1.55"/><circle cx="523.3" cy="228.52" r="1.55"/><circle cx="523.8" cy="210.57" r="1.55"/></g>
<rect x="367.0" y="228.4" width="97.30000000000001" height="71.70000000000002" fill="#fff" stroke="#888" stroke-width="0.5"/>
<text x="369.8" y="305.2" text-anchor="middle" font-family="'Liberation Sans',Arial,sans-serif" font-size="4.2" fill="#555">-1.0</text>
<text x="392.85" y="305.2" text-anchor="middle" font-family="'Liberation Sans',Arial,sans-serif" font-size="4.2" fill="#555">-0.5</text>
<text x="415.9" y="305.2" text-anchor="middle" font-family="'Liberation Sans',Arial,sans-serif" font-size="4.2" fill="#555">0.0</text>
<text x="438.95" y="305.2" text-anchor="middle" font-family="'Liberation Sans',Arial,sans-serif" font-size="4.2" fill="#555">0.5</text>
<text x="462" y="305.2" text-anchor="middle" font-family="'Liberation Sans',Arial,sans-serif" font-size="4.2" fill="#555">1.0</text>
<text x="365.6" y="236.7" text-anchor="end" font-family="'Liberation Sans',Arial,sans-serif" font-size="4" fill="#555">10<tspan font-size="2.6" dy="-1.4">-1</tspan></text>
<text x="365.6" y="264.6" text-anchor="end" font-family="'Liberation Sans',Arial,sans-serif" font-size="4" fill="#555">10<tspan font-size="2.6" dy="-1.4">-2</tspan></text>
<text x="365.6" y="292.5" text-anchor="end" font-family="'Liberation Sans',Arial,sans-serif" font-size="4" fill="#555">10<tspan font-size="2.6" dy="-1.4">-3</tspan></text>
<path d="M369.8,300.1v-1.4M381.32,300.1v-0.8M392.85,300.1v-1.4M404.38,300.1v-0.8M415.9,300.1v-1.4M427.42,300.1v-0.8M438.95,300.1v-1.4M450.47,300.1v-0.8M462,300.1v-1.4M367.0,235.5h1.4M367.0,263.4h1.4M367.0,255h0.7M367.0,250.09h0.7M367.0,246.6h0.7M367.0,243.9h0.7M367.0,241.69h0.7M367.0,239.82h0.7M367.0,238.2h0.7M367.0,236.78h0.7M367.0,291.3h1.4M367.0,282.9h0.7M367.0,277.99h0.7M367.0,274.5h0.7M367.0,271.8h0.7M367.0,269.59h0.7M367.0,267.72h0.7M367.0,266.1h0.7M367.0,264.68h0.7" stroke="#888" stroke-width="0.4" fill="none"/>
<text x="416.5" y="312" text-anchor="middle" font-family="'Liberation Sans',Arial,sans-serif" font-size="4" fill="#555"><tspan font-style="italic">V</tspan> (V)</text>
<text transform="translate(354.4,260) rotate(-90)" text-anchor="middle" font-family="'Liberation Sans',Arial,sans-serif" font-size="2.9" fill="#666"><tspan font-style="italic">I</tspan> (nA)</text>
<polyline points="369.8,241.57 369.98,241.59 370.17,242.04 370.35,241.33 370.54,241.86 370.72,241.37 370.91,242.22 371.09,242.03 371.28,242.36 371.46,241.95 371.65,242.24 371.83,242.14 372.02,242.1 372.2,242.41 372.39,242.14 372.57,242.46 372.76,242.83 372.94,242.75 373.13,242.7 373.31,243.49 373.5,242.97 373.68,242.85 373.86,243.1 374.05,242.95 374.23,243.01 374.42,243.04 374.6,243.71 374.79,243.16 374.97,243.21 375.16,243.36 375.34,243.75 375.53,243.14 375.71,243.06 375.9,243.97 376.08,242.92 376.27,243.27 376.45,243.63 376.64,244.19 376.82,243.34 377.01,243.03 377.19,244 377.38,243.76 377.56,243.89 377.75,244.24 377.93,244.26 378.11,244.37 378.3,244.23 378.48,244.82 378.67,244.94 378.85,244.52 379.04,244.4 379.22,244.79 379.41,244.73 379.59,244.27 379.78,244.46 379.96,244.94 380.15,244.59 380.33,244.54 380.52,244.74 380.7,244.7 380.89,244.77 381.07,244.24 381.26,245.47 381.44,245.06 381.63,244.82 381.81,245.52 381.99,245.41 382.18,245.43 382.36,245.9 382.55,246.44 382.73,245.95 382.92,246.41 383.1,246.71 383.29,245.67 383.47,245.9 383.66,246.4 383.84,245.58 384.03,246.09 384.21,246.67 384.4,246.59 384.58,246.44 384.77,245.59 384.95,247.12 385.14,246.48 385.32,246.59 385.51,246.54 385.69,245.82 385.87,245.98 386.06,246.14 386.24,247.4 386.43,246.48 386.61,246.82 386.8,246.94 386.98,247.39 387.17,247.49 387.35,247.54 387.54,247.07 387.72,246.48 387.91,247.84 388.09,247.97 388.28,248.44 388.46,247.95 388.65,247.79 388.83,248.23 389.02,247.46 389.2,247.68 389.39,247.71 389.57,248.25 389.76,249.04 389.94,248.49 390.12,248.69 390.31,248.36 390.49,248.44 390.68,248.22 390.86,248.39 391.05,247.62 391.23,248.24 391.42,248.34 391.6,249.42 391.79,249.5 391.97,249.89 392.16,250.25 392.34,249.52 392.53,250.31 392.71,250.89 392.9,250.02 393.08,250.63 393.27,250.07 393.45,249.42 393.64,250.26 393.82,249.82 394,250.27 394.19,249.98 394.37,250.36 394.56,249.2 394.74,251.28 394.93,250.92 395.11,250.1 395.3,249.89 395.48,250.41 395.67,250.84 395.85,250.83 396.04,250.95 396.22,249.91 396.41,250.47 396.59,251.95 396.78,251.51 396.96,250.74 397.15,251.22 397.33,251.05 397.52,251.4 397.7,252.76 397.88,252.03 398.07,252.9 398.25,252.38 398.44,251.44 398.62,251.93 398.81,253.74 398.99,251.86 399.18,251.69 399.36,253.05 399.55,252.36 399.73,252.33 399.92,253.28 400.1,251.43 400.29,252.78 400.47,252.01 400.66,251.93 400.84,252.42 401.03,253.85 401.21,253.19 401.4,252.33 401.58,252.96 401.77,254.95 401.95,254.79 402.13,253.5 402.32,256.25 402.5,254.28 402.69,253.81 402.87,254.63 403.06,255.49 403.24,256.06 403.43,255.62 403.61,254.53 403.8,254.43 403.98,253.8 404.17,254.77 404.35,254.41 404.54,255.05 404.72,254.01 404.91,254.61 405.09,254.45 405.28,254.35 405.46,254.51 405.65,254.81 405.83,254.89 406.01,256.49 406.2,256.35 406.38,255.45 406.57,257.22 406.75,257.27 406.94,258.63 407.12,257.28 407.31,257.44 407.49,257.15 407.68,258.01 407.86,258.45 408.05,258.18 408.23,257.8 408.42,258.6 408.6,258.13 408.79,258.27 408.97,257.17 409.16,258.24 409.34,257.15 409.53,257.35 409.71,258.38 409.89,260.62 410.08,259.56 410.26,258.74 410.45,258.8 410.63,260.35 410.82,261.17 411,261.34 411.19,260.03 411.37,260.81 411.56,260.53 411.74,260.9 411.93,260.5 412.11,261.47 412.3,259.44 412.48,260.66 412.67,262.89 412.85,261.17 413.04,263.17 413.22,260.76 413.41,261.91 413.59,262.95 413.78,261.05 413.96,261.46 414.14,266.44 414.33,261.62 414.51,261.71 414.7,262.05 414.88,263.13 415.07,263.34 415.25,265.34 415.44,265.47 415.62,263.96 415.81,264.51 415.99,263.34 416.18,263.66 416.36,265.36 416.55,268.84 416.73,268 416.92,270.09 417.1,270.9 417.29,268.46 417.47,275.47 417.66,268 417.84,267.84 418.02,268.29 418.21,272.38 418.39,268.92 418.58,267.57 418.76,270.33 418.95,272.41 419.13,269.16 419.32,269.03 419.5,273.1 419.69,273.3 419.87,273.85 420.06,269.52 420.24,273.26 420.43,274.54 420.61,269.05 420.8,281.61 420.98,277.16 421.17,276.47 421.35,291.92 421.54,281.83 421.72,278.01 421.91,283.03 422.09,290.74 422.27,291.92 422.46,285.49 422.64,279.89 422.83,280.96 423.01,280.2 423.2,278.82 423.38,286.02 423.57,282.2 423.75,287.03 423.94,280.49 424.12,280.75 424.31,287.16 424.49,287.08 424.68,291.92 424.86,285.74 425.05,291.92 425.23,291.92 425.42,290.6 425.6,284.14 425.79,286.47 425.97,291.92 426.15,279.26 426.34,276.43 426.52,286.02 426.71,272.27 426.89,277.61 427.08,285.49 427.26,275.13 427.45,279.21 427.63,286.15 427.82,291.92 428,276.29 428.19,281.52 428.37,274.71 428.56,275.64 428.74,279.78 428.93,279.4 429.11,270.37 429.3,270.14 429.48,272.3 429.67,275.4 429.85,276.99 430.03,273.55 430.22,267.39 430.4,269.4 430.59,270.55 430.77,272.41 430.96,268.09 431.14,269.97 431.33,267.43 431.51,265.69 431.7,264.87 431.88,266.34 432.07,267.14 432.25,265.97 432.44,263.36 432.62,265.68 432.81,269.38 432.99,263.77 433.18,265.94 433.36,261.11 433.55,267.21 433.73,266.33 433.92,266.51 434.1,265.03 434.28,266.41 434.47,267.77 434.65,268.19 434.84,264.32 435.02,264.48 435.21,264.1 435.39,260.13 435.58,261.35 435.76,260.66 435.95,262.35 436.13,261.04 436.32,261.44 436.5,261.25 436.69,260 436.87,260.08 437.06,260.37 437.24,260.53 437.43,262.46 437.61,261.39 437.8,259.94 437.98,260.65 438.16,260.98 438.35,259.5 438.53,260.72 438.72,260.16 438.9,258.26 439.09,259.2 439.27,257.16 439.46,257.64 439.64,257.03 439.83,256.4 440.01,259.04 440.2,256.69 440.38,257.38 440.57,256.32 440.75,255.72 440.94,254.45 441.12,255.15 441.31,253.77 441.49,255.12 441.68,254.62 441.86,254.39 442.04,253.71 442.23,254.29 442.41,254.61 442.6,254.32 442.78,254.99 442.97,253.09 443.15,253.31 443.34,253.39 443.52,253.33 443.71,253.73 443.89,253.4 444.08,252.44 444.26,253.19 444.45,252.93 444.63,251.32 444.82,251.1 445,251.55 445.19,251.18 445.37,251.15 445.56,250.31 445.74,251.09 445.93,250.65 446.11,250.3 446.29,249.71 446.48,250.44 446.66,250.11 446.85,250.39 447.03,250.41 447.22,250.35 447.4,249.93 447.59,249.49 447.77,250.18 447.96,250.06 448.14,249.87 448.33,249.41 448.51,249.13 448.7,249.9 448.88,249 449.07,249.44 449.25,248.5 449.44,249.05 449.62,248.91 449.81,248.56 449.99,248.1 450.17,248.32 450.36,247.66 450.54,247.54 450.73,247.44 450.91,247.25 451.1,246.93 451.28,247.46 451.47,247.1 451.65,247.06 451.84,247.8 452.02,246.81 452.21,247.21 452.39,247.15 452.58,247 452.76,246.74 452.95,246.59 453.13,246.46 453.32,246.76 453.5,246.11 453.69,246.05 453.87,246.16 454.05,245.86 454.24,245.4 454.42,245.34 454.61,245.07 454.79,245.08 454.98,244.58 455.16,244.1 455.35,244.48 455.53,244.97 455.72,243.83 455.9,244.39 456.09,244.48 456.27,244.64 456.46,243.67 456.64,243.36 456.83,243.28 457.01,243.53 457.2,242.87 457.38,243.12 457.57,243.1 457.75,242.75 457.94,242.54 458.12,242.32 458.3,241.96 458.49,242.34 458.67,241.15 458.86,241.37 459.04,240.7 459.23,240.58 459.41,239.95 459.6,239.58 459.78,239.34 459.97,238.46 460.15,237.83 460.34,237.44 460.52,236.94 460.71,236.09 460.89,235.44 461.08,234.57 461.26,233.39 461.45,232.24 461.63,231.42 461.82,230.31 462,228.48" fill="none" stroke="#111" stroke-width="0.5" stroke-linejoin="round"/>
<text x="355" y="221.3" font-family="'Liberation Serif',serif" font-weight="bold" font-size="13.45" fill="#1f6fb5">InS<tspan font-size="8.5" dy="2.6">0.3</tspan><tspan dy="-2.6">Se</tspan><tspan font-size="8.5" dy="2.6">0.7</tspan><tspan dy="-2.6">/WS</tspan><tspan font-size="10.5" dy="2.2">2</tspan><tspan dy="-2.2" dx="0.9"> junction</tspan></text>
<text x="423" y="404.3" text-anchor="middle" font-family="'Liberation Sans',Arial,sans-serif" font-size="10.2" fill="#3a3a3a"><tspan font-style="italic">V</tspan> (V)</text>
<text transform="translate(283.6,268.5) rotate(-90)" text-anchor="middle" font-family="'Liberation Sans',Arial,sans-serif" font-size="9.6" fill="#3a3a3a"><tspan font-style="italic">I</tspan> (nA)</text>
</g>
<text x="283" y="209.9" font-family="'Liberation Serif',serif" font-size="22.4" fill="#111">(d)</text>
</svg>
</body></html>
